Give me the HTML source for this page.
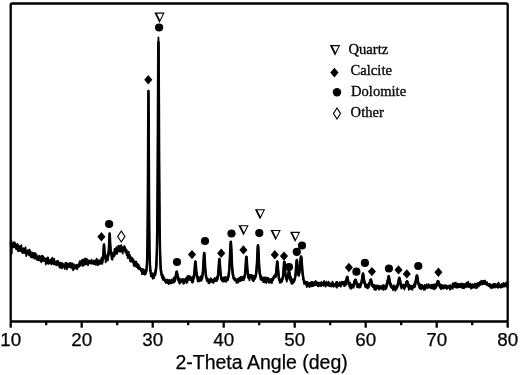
<!DOCTYPE html>
<html><head><meta charset="utf-8"><title>XRD pattern</title>
<style>
html,body{margin:0;padding:0;background:#fff;}
body{width:520px;height:375px;overflow:hidden;}
svg{display:block;}
.ax text{font-family:"Liberation Sans",Arial,Helvetica,sans-serif;font-size:18.8px;fill:#000;stroke:#000;stroke-width:0.25px;}
.lg text{font-family:"Liberation Serif","Times New Roman",Times,serif;font-size:14.6px;fill:#000;stroke:#000;stroke-width:0.3px;}
</style></head><body>
<svg width="520" height="375" viewBox="0 0 520 375">
<rect x="0" y="0" width="520" height="375" fill="#fff"/>
<polyline points="10.70,244.64 10.85,246.48 11.00,243.79 11.15,240.86 11.30,243.38 11.45,240.84 11.60,246.54 11.75,253.41 11.90,244.08 12.05,243.55 12.20,246.88 12.35,246.69 12.50,246.25 12.65,244.23 12.80,246.09 12.95,247.59 13.10,243.56 13.25,245.38 13.40,242.54 13.55,243.81 13.70,242.75 13.85,246.01 14.00,243.99 14.15,247.06 14.30,246.82 14.45,246.13 14.60,242.11 14.75,245.43 14.90,246.42 15.05,246.75 15.20,243.48 15.35,245.60 15.50,244.61 15.65,244.97 15.80,248.74 15.95,245.03 16.10,246.61 16.25,248.48 16.40,245.58 16.55,246.56 16.70,247.05 16.85,247.00 17.00,244.47 17.15,247.12 17.30,249.74 17.45,243.99 17.60,248.86 17.75,247.44 17.90,245.98 18.05,251.33 18.20,248.93 18.35,245.08 18.50,247.70 18.65,248.78 18.80,247.33 18.95,249.15 19.10,247.73 19.25,249.28 19.40,250.91 19.55,246.76 19.70,248.60 19.85,247.36 20.00,248.62 20.15,246.08 20.30,247.38 20.45,248.22 20.60,250.49 20.75,251.07 20.90,246.21 21.05,247.35 21.20,250.34 21.35,245.17 21.50,248.33 21.65,249.17 21.80,251.98 21.95,250.94 22.10,249.00 22.25,249.01 22.40,249.34 22.55,252.98 22.70,249.16 22.85,249.49 23.00,250.89 23.15,250.02 23.30,249.95 23.45,248.19 23.60,250.47 23.75,249.68 23.90,252.97 24.05,252.01 24.20,250.73 24.35,252.18 24.50,250.23 24.65,253.07 24.80,251.02 24.95,252.26 25.10,248.58 25.25,251.92 25.40,247.91 25.55,247.28 25.70,250.81 25.85,249.68 26.00,251.87 26.15,256.00 26.30,250.03 26.45,250.52 26.60,252.24 26.75,252.89 26.90,251.64 27.05,251.66 27.20,253.55 27.35,253.28 27.50,250.30 27.65,252.28 27.80,252.60 27.95,250.55 28.10,253.24 28.25,251.15 28.40,254.85 28.55,253.43 28.70,253.33 28.85,252.11 29.00,253.14 29.15,249.57 29.30,251.37 29.45,254.38 29.60,249.63 29.75,255.52 29.90,250.57 30.05,255.53 30.20,252.50 30.35,255.74 30.50,254.56 30.65,251.41 30.80,256.88 30.95,257.32 31.10,254.47 31.25,254.13 31.40,254.41 31.55,252.90 31.70,256.94 31.85,253.84 32.00,254.83 32.15,253.45 32.30,253.82 32.45,252.61 32.60,257.50 32.75,254.85 32.90,257.02 33.05,255.24 33.20,253.94 33.35,254.68 33.50,254.28 33.65,255.41 33.80,254.73 33.95,254.93 34.10,252.95 34.25,254.09 34.40,258.81 34.55,254.49 34.70,253.85 34.85,256.55 35.00,258.65 35.15,253.37 35.30,255.81 35.45,255.12 35.60,253.12 35.75,257.90 35.90,256.60 36.05,256.90 36.20,255.48 36.35,257.86 36.50,256.13 36.65,256.99 36.80,255.32 36.95,255.24 37.10,260.07 37.25,256.74 37.40,258.30 37.55,257.77 37.70,257.09 37.85,257.03 38.00,259.19 38.15,257.52 38.30,257.84 38.45,258.20 38.60,260.36 38.75,259.48 38.90,258.96 39.05,257.25 39.20,255.77 39.35,260.07 39.50,260.12 39.65,258.11 39.80,259.38 39.95,259.84 40.10,259.96 40.25,260.15 40.40,257.67 40.55,261.31 40.70,256.31 40.85,260.21 41.00,259.59 41.15,260.34 41.30,262.24 41.45,261.59 41.60,256.89 41.75,255.98 41.90,260.61 42.05,257.38 42.20,259.29 42.35,260.92 42.50,256.52 42.65,255.77 42.80,260.15 42.95,259.85 43.10,259.42 43.25,260.01 43.40,258.48 43.55,257.38 43.70,259.88 43.85,258.51 44.00,257.37 44.15,261.29 44.30,260.33 44.45,261.22 44.60,258.77 44.75,259.41 44.90,258.85 45.05,259.09 45.20,261.05 45.35,259.33 45.50,261.39 45.65,261.39 45.80,264.43 45.95,258.37 46.10,262.46 46.25,260.76 46.40,260.93 46.55,258.42 46.70,260.22 46.85,262.40 47.00,260.98 47.15,261.31 47.30,260.70 47.45,263.31 47.60,261.28 47.75,257.47 47.90,260.19 48.05,257.98 48.20,257.61 48.35,260.60 48.50,263.92 48.65,261.68 48.80,259.56 48.95,259.99 49.10,263.65 49.25,261.95 49.40,261.76 49.55,261.58 49.70,261.74 49.85,263.08 50.00,262.62 50.15,262.01 50.30,259.79 50.45,262.49 50.60,260.38 50.75,263.47 50.90,259.31 51.05,261.27 51.20,261.48 51.35,259.16 51.50,264.46 51.65,263.99 51.80,260.62 51.95,262.77 52.10,262.08 52.25,257.59 52.40,261.86 52.55,261.32 52.70,261.58 52.85,259.58 53.00,261.00 53.15,261.17 53.30,263.55 53.45,262.10 53.60,261.53 53.75,264.21 53.90,260.64 54.05,260.96 54.20,258.53 54.35,264.41 54.50,263.41 54.65,263.37 54.80,262.99 54.95,262.08 55.10,262.32 55.25,261.57 55.40,261.72 55.55,262.23 55.70,264.80 55.85,263.23 56.00,262.25 56.15,261.43 56.30,261.42 56.45,265.34 56.60,263.54 56.75,262.88 56.90,262.26 57.05,261.04 57.20,262.91 57.35,264.60 57.50,262.53 57.65,262.90 57.80,262.99 57.95,263.64 58.10,260.83 58.25,263.22 58.40,262.25 58.55,265.28 58.70,262.55 58.85,264.91 59.00,266.59 59.15,263.54 59.30,263.13 59.45,264.54 59.60,264.28 59.75,262.66 59.90,265.19 60.05,267.87 60.20,264.09 60.35,264.25 60.50,262.89 60.65,265.24 60.80,262.66 60.95,262.96 61.10,267.03 61.25,263.40 61.40,266.79 61.55,267.58 61.70,265.50 61.85,266.04 62.00,268.44 62.15,264.88 62.30,264.26 62.45,263.04 62.60,265.43 62.75,267.88 62.90,267.06 63.05,263.92 63.20,264.11 63.35,264.74 63.50,266.12 63.65,265.32 63.80,266.06 63.95,266.23 64.10,265.27 64.25,265.73 64.40,266.17 64.55,265.70 64.70,266.70 64.85,268.99 65.00,266.87 65.15,265.98 65.30,263.08 65.45,266.53 65.60,262.65 65.75,263.53 65.90,267.29 66.05,267.03 66.20,265.59 66.35,262.98 66.50,265.18 66.65,264.65 66.80,266.81 66.95,269.38 67.10,266.07 67.25,264.40 67.40,263.73 67.55,265.56 67.70,265.34 67.85,263.72 68.00,265.80 68.15,263.70 68.30,267.43 68.45,267.34 68.60,267.37 68.75,264.80 68.90,266.44 69.05,265.37 69.20,264.96 69.35,265.05 69.50,263.48 69.65,263.25 69.80,266.96 69.95,265.36 70.10,266.05 70.25,267.37 70.40,262.91 70.55,264.50 70.70,266.11 70.85,266.51 71.00,265.29 71.15,267.64 71.30,266.34 71.45,264.05 71.60,264.57 71.75,267.47 71.90,266.96 72.05,263.14 72.20,268.52 72.35,267.35 72.50,268.62 72.65,265.85 72.80,266.05 72.95,264.75 73.10,270.24 73.25,266.41 73.40,269.34 73.55,265.74 73.70,267.12 73.85,264.17 74.00,266.32 74.15,268.60 74.30,265.00 74.45,268.83 74.60,267.67 74.75,265.47 74.90,266.39 75.05,266.50 75.20,267.21 75.35,266.46 75.50,265.97 75.65,266.79 75.80,265.57 75.95,265.10 76.10,267.08 76.25,268.56 76.40,264.57 76.55,267.04 76.70,265.91 76.85,265.33 77.00,268.28 77.15,265.97 77.30,269.23 77.45,265.41 77.60,267.27 77.75,266.19 77.90,265.25 78.05,267.36 78.20,265.97 78.35,267.05 78.50,265.80 78.65,263.89 78.80,265.35 78.95,265.43 79.10,266.78 79.25,263.45 79.40,264.74 79.55,261.70 79.70,265.55 79.85,262.43 80.00,261.01 80.15,263.90 80.30,265.80 80.45,261.20 80.60,261.86 80.75,262.36 80.90,261.61 81.05,264.12 81.20,262.00 81.35,262.06 81.50,264.23 81.65,261.84 81.80,263.81 81.95,261.30 82.10,260.80 82.25,259.64 82.40,265.97 82.55,262.10 82.70,263.00 82.85,262.43 83.00,262.67 83.15,262.47 83.30,265.71 83.45,260.56 83.60,259.64 83.75,260.58 83.90,260.00 84.05,263.61 84.20,263.72 84.35,260.59 84.50,259.83 84.65,261.61 84.80,264.62 84.95,258.35 85.10,263.07 85.25,260.26 85.40,263.92 85.55,260.21 85.70,261.57 85.85,259.43 86.00,260.33 86.15,264.41 86.30,263.42 86.45,261.28 86.60,260.46 86.75,258.67 86.90,261.27 87.05,261.89 87.20,261.80 87.35,261.79 87.50,260.01 87.65,261.85 87.80,261.92 87.95,264.24 88.10,265.26 88.25,261.81 88.40,260.76 88.55,262.01 88.70,261.11 88.85,260.92 89.00,262.15 89.15,260.50 89.30,263.40 89.45,262.23 89.60,262.90 89.75,262.21 89.90,261.34 90.05,261.02 90.20,262.31 90.35,261.84 90.50,263.25 90.65,262.91 90.80,260.63 90.95,263.16 91.10,260.77 91.25,262.05 91.40,262.64 91.55,259.60 91.70,263.36 91.85,263.48 92.00,262.96 92.15,262.52 92.30,262.61 92.45,261.58 92.60,262.80 92.75,262.31 92.90,263.42 93.05,261.18 93.20,263.65 93.35,263.48 93.50,262.98 93.65,262.45 93.80,264.15 93.95,260.30 94.10,263.95 94.25,263.55 94.40,263.60 94.55,263.75 94.70,261.93 94.85,262.59 95.00,264.11 95.15,263.72 95.30,263.30 95.45,260.28 95.60,263.79 95.75,264.85 95.90,264.53 96.05,263.15 96.20,260.00 96.35,264.29 96.50,262.36 96.65,258.76 96.80,263.19 96.95,259.91 97.10,260.21 97.25,261.32 97.40,264.61 97.55,261.73 97.70,262.82 97.85,265.37 98.00,265.09 98.15,262.13 98.30,261.89 98.45,260.13 98.60,261.12 98.75,263.09 98.90,263.06 99.05,262.57 99.20,264.10 99.35,261.00 99.50,262.24 99.65,263.61 99.80,263.35 99.95,264.19 100.10,263.00 100.25,261.75 100.40,262.92 100.55,260.50 100.70,259.35 100.85,263.23 101.00,262.07 101.10,262.69 101.15,259.15 101.20,261.51 101.30,261.05 101.40,260.53 101.45,258.14 101.50,261.41 101.60,263.52 101.70,262.51 101.75,260.70 101.80,261.68 101.90,262.93 102.00,257.50 102.05,261.12 102.10,262.21 102.20,262.28 102.30,263.90 102.35,262.75 102.40,261.13 102.50,260.84 102.60,261.41 102.65,258.81 102.70,259.51 102.80,260.81 102.90,261.90 102.95,258.01 103.00,257.83 103.10,257.39 103.20,257.84 103.25,255.54 103.30,256.60 103.40,252.58 103.50,251.69 103.55,250.77 103.60,250.48 103.70,248.52 103.80,245.70 103.85,245.24 103.90,244.96 104.00,244.39 104.10,244.56 104.15,245.59 104.20,246.18 104.30,247.95 104.40,249.23 104.45,251.22 104.50,251.11 104.60,253.94 104.70,253.12 104.75,253.66 104.80,255.43 104.90,254.99 105.00,257.68 105.05,257.31 105.10,255.52 105.20,257.62 105.30,257.13 105.35,259.59 105.40,256.84 105.50,257.38 105.60,260.56 105.65,262.43 105.70,262.12 105.80,258.65 105.90,258.99 105.95,261.43 106.00,258.41 106.10,256.85 106.20,258.84 106.25,259.44 106.30,257.08 106.40,255.53 106.50,255.86 106.55,259.68 106.60,257.02 106.65,258.11 106.70,258.70 106.75,259.39 106.80,257.57 106.85,259.04 106.90,256.41 106.95,257.30 107.00,256.00 107.05,259.90 107.15,257.62 107.25,256.15 107.30,256.77 107.35,256.91 107.45,258.45 107.55,253.98 107.60,254.90 107.65,256.01 107.75,260.60 107.85,258.01 107.90,255.84 107.95,257.23 108.05,259.44 108.15,254.69 108.20,254.21 108.25,256.98 108.35,255.05 108.45,254.73 108.50,252.11 108.55,256.13 108.65,254.56 108.75,251.44 108.80,250.90 108.85,246.49 108.95,248.23 109.05,245.27 109.10,244.73 109.15,243.71 109.25,240.35 109.35,237.16 109.40,236.97 109.45,235.49 109.55,234.07 109.65,233.52 109.70,233.60 109.75,233.65 109.85,235.95 109.95,237.88 110.00,239.65 110.05,241.61 110.15,242.83 110.25,243.32 110.30,245.21 110.35,245.75 110.45,248.19 110.55,250.38 110.60,247.70 110.65,252.00 110.75,249.60 110.85,253.69 110.90,253.19 110.95,253.06 111.05,253.98 111.15,253.42 111.20,253.43 111.25,251.48 111.35,254.90 111.45,258.68 111.50,259.00 111.55,257.78 111.65,256.68 111.75,254.09 111.80,258.18 111.85,255.31 111.95,255.31 112.05,254.90 112.10,255.63 112.15,254.61 112.25,255.28 112.35,253.35 112.40,254.70 112.45,259.64 112.55,255.26 112.65,254.86 112.70,256.29 112.85,256.44 113.00,252.74 113.15,254.29 113.30,256.28 113.45,254.82 113.60,254.33 113.75,256.93 113.90,252.35 114.05,253.64 114.20,252.24 114.35,256.01 114.50,248.97 114.65,251.30 114.80,251.36 114.95,253.52 115.10,253.29 115.25,254.80 115.40,248.78 115.55,253.36 115.70,251.19 115.85,250.36 116.00,252.68 116.15,249.66 116.30,247.25 116.45,250.56 116.60,248.19 116.75,249.78 116.90,251.70 117.05,251.46 117.20,253.88 117.35,250.18 117.50,247.38 117.65,248.80 117.80,248.34 117.95,247.60 118.10,250.80 118.25,248.53 118.40,245.77 118.55,251.02 118.70,249.30 118.85,250.14 119.00,249.55 119.15,250.51 119.30,249.24 119.45,251.55 119.60,249.85 119.75,249.72 119.90,249.68 120.05,245.89 120.20,248.41 120.35,248.17 120.50,249.05 120.65,245.88 120.80,251.82 120.95,248.73 121.10,246.07 121.25,245.04 121.40,247.88 121.55,248.32 121.70,247.12 121.85,248.80 122.00,247.40 122.15,249.86 122.30,247.38 122.45,248.83 122.60,250.95 122.75,253.48 122.90,247.15 123.05,248.32 123.20,247.66 123.35,251.00 123.50,247.23 123.65,248.64 123.80,249.65 123.95,247.84 124.10,248.00 124.25,249.10 124.40,245.98 124.55,247.42 124.70,249.61 124.85,250.86 125.00,250.31 125.15,247.25 125.30,249.98 125.45,252.61 125.60,252.23 125.75,251.07 125.90,249.55 126.05,252.68 126.20,250.35 126.35,249.40 126.50,250.36 126.65,255.09 126.80,252.85 126.95,254.94 127.10,251.88 127.25,254.91 127.40,252.06 127.55,253.14 127.70,257.99 127.85,255.35 128.00,253.05 128.15,254.05 128.30,255.03 128.45,256.93 128.60,253.86 128.75,251.71 128.90,254.81 129.05,255.64 129.20,256.07 129.35,258.62 129.50,256.97 129.65,258.16 129.80,254.81 129.95,258.74 130.10,261.27 130.25,259.05 130.40,258.33 130.55,258.39 130.70,261.63 130.85,256.92 131.00,258.66 131.15,259.82 131.30,260.45 131.45,258.45 131.60,259.92 131.75,259.01 131.90,259.87 132.05,259.57 132.20,257.93 132.35,260.08 132.50,261.83 132.65,258.74 132.80,260.20 132.95,261.98 133.10,259.13 133.25,261.51 133.40,259.55 133.55,263.57 133.70,265.62 133.85,265.51 134.00,261.87 134.15,263.73 134.30,262.90 134.45,263.09 134.60,265.77 134.75,261.13 134.90,265.38 135.05,263.72 135.20,266.33 135.35,264.42 135.50,263.13 135.65,264.87 135.80,265.78 135.95,264.75 136.10,265.64 136.25,264.10 136.40,261.56 136.55,266.72 136.70,266.51 136.85,265.72 137.00,265.70 137.15,267.41 137.30,265.08 137.45,264.78 137.60,265.74 137.75,268.11 137.90,264.02 138.05,268.33 138.20,265.46 138.35,264.83 138.50,268.77 138.65,266.69 138.80,264.86 138.95,266.50 139.10,268.73 139.25,269.32 139.40,266.92 139.55,268.43 139.70,269.10 139.85,267.13 140.00,268.89 140.15,268.47 140.30,267.86 140.45,268.12 140.60,269.17 140.75,269.30 140.90,268.56 141.05,268.96 141.20,271.50 141.35,270.30 141.50,271.50 141.65,272.16 141.80,271.40 141.95,274.01 142.10,269.61 142.25,272.25 142.40,270.73 142.55,274.14 142.70,274.07 142.85,268.81 143.00,270.44 143.15,273.01 143.30,273.35 143.45,273.42 143.60,272.38 143.75,273.29 143.90,273.70 144.05,272.74 144.20,274.44 144.35,269.85 144.50,274.02 144.65,271.67 144.80,274.58 144.95,272.88 145.10,271.92 145.25,273.69 145.40,271.76 145.45,271.70 145.55,270.65 145.65,272.75 145.70,273.41 145.75,274.08 145.85,272.18 145.95,273.68 146.00,272.00 146.05,271.66 146.15,272.29 146.25,272.55 146.30,270.15 146.35,269.96 146.45,269.38 146.55,268.91 146.60,266.87 146.65,269.37 146.75,265.89 146.85,265.84 146.90,262.82 146.95,263.85 147.05,261.72 147.15,257.50 147.20,260.39 147.25,255.48 147.35,253.70 147.45,246.49 147.50,240.49 147.55,237.17 147.65,229.11 147.75,216.75 147.80,209.64 147.85,201.34 147.95,181.48 148.05,160.81 148.10,147.76 148.15,137.12 148.25,113.86 148.35,97.10 148.40,92.53 148.45,90.98 148.55,97.04 148.65,113.64 148.70,124.81 148.75,136.11 148.85,160.58 148.95,184.66 149.00,192.19 149.05,202.72 149.15,215.61 149.25,229.54 149.30,233.65 149.35,238.39 149.45,246.66 149.55,254.57 149.60,254.09 149.65,256.07 149.75,257.61 149.85,263.20 149.90,262.99 149.95,265.90 150.05,266.28 150.15,270.63 150.20,265.43 150.25,268.70 150.35,271.55 150.45,270.56 150.50,270.31 150.55,271.46 150.65,270.47 150.75,273.19 150.80,276.43 150.85,275.13 150.95,272.32 151.05,273.00 151.10,273.81 151.15,275.93 151.25,273.64 151.35,274.05 151.40,276.32 151.45,276.38 151.55,274.85 151.70,274.06 151.85,273.66 152.00,274.97 152.15,273.08 152.30,277.16 152.45,275.38 152.60,276.93 152.75,278.83 152.90,277.93 153.05,274.84 153.20,277.54 153.35,277.91 153.50,275.34 153.65,275.01 153.80,276.08 153.95,273.99 154.10,278.02 154.25,272.92 154.40,274.23 154.55,275.17 154.70,274.98 154.85,275.23 155.00,275.02 155.15,273.90 155.30,275.31 155.45,269.94 155.55,272.55 155.60,271.23 155.65,272.20 155.75,271.68 155.85,269.21 155.90,269.20 155.95,270.98 156.05,269.30 156.15,266.49 156.20,270.27 156.25,269.88 156.35,262.20 156.45,263.36 156.50,265.68 156.55,262.07 156.65,258.51 156.75,254.67 156.80,252.27 156.85,251.02 156.95,246.04 157.05,243.47 157.10,238.21 157.15,234.87 157.25,225.88 157.35,219.15 157.40,212.49 157.45,208.08 157.55,196.96 157.65,180.51 157.70,172.00 157.75,162.49 157.85,141.72 157.95,119.14 158.00,107.39 158.05,96.47 158.15,73.10 158.25,55.21 158.30,47.47 158.35,41.88 158.45,37.49 158.55,41.94 158.60,47.58 158.65,54.61 158.75,74.33 158.85,95.59 158.90,106.12 158.95,118.79 159.05,139.81 159.15,162.19 159.20,172.84 159.25,181.02 159.35,193.51 159.45,207.21 159.50,217.25 159.55,219.88 159.65,228.31 159.75,237.91 159.80,243.46 159.85,244.62 159.95,247.50 160.05,252.27 160.10,254.66 160.15,254.03 160.25,256.33 160.35,260.96 160.40,260.37 160.45,262.97 160.55,265.12 160.65,270.13 160.70,265.93 160.75,267.76 160.85,268.90 160.95,270.85 161.00,272.22 161.05,270.35 161.15,270.67 161.25,270.20 161.30,271.53 161.35,273.90 161.45,273.74 161.60,272.99 161.75,274.48 161.90,275.54 162.05,276.61 162.20,275.55 162.35,276.36 162.50,274.65 162.65,275.81 162.80,279.68 162.95,274.98 163.10,277.63 163.25,278.58 163.40,278.02 163.55,277.66 163.70,278.84 163.85,279.10 164.00,279.20 164.15,277.05 164.30,279.48 164.45,278.74 164.60,279.31 164.75,280.48 164.90,281.18 165.05,281.66 165.20,280.00 165.35,281.98 165.50,282.43 165.65,282.50 165.80,282.94 165.95,281.05 166.10,281.11 166.25,282.49 166.40,279.71 166.55,281.83 166.70,280.93 166.85,281.19 167.00,279.45 167.15,280.59 167.30,281.76 167.45,282.97 167.60,283.13 167.75,281.76 167.90,281.64 168.05,280.83 168.20,282.46 168.35,281.64 168.50,282.77 168.65,284.27 168.80,281.91 168.95,279.97 169.10,280.76 169.25,279.95 169.40,280.26 169.55,283.49 169.70,282.07 169.85,279.78 170.00,282.59 170.15,283.36 170.30,281.24 170.45,280.82 170.60,281.25 170.75,282.04 170.90,282.49 171.05,283.18 171.20,283.20 171.35,283.14 171.50,283.35 171.65,282.41 171.80,279.52 171.95,281.30 172.10,281.83 172.25,280.87 172.40,282.49 172.55,280.77 172.70,279.96 172.85,282.95 173.00,281.85 173.15,281.17 173.30,281.98 173.45,282.03 173.60,280.97 173.70,277.56 173.75,279.47 173.80,279.69 173.90,278.90 174.00,280.32 174.05,281.55 174.10,279.31 174.20,278.35 174.30,282.35 174.35,279.07 174.40,278.00 174.50,279.79 174.60,279.90 174.65,278.37 174.70,280.27 174.80,278.44 174.90,277.69 174.95,279.06 175.00,279.75 175.10,277.70 175.20,278.68 175.25,278.02 175.30,280.89 175.40,276.77 175.50,279.11 175.55,277.07 175.60,276.79 175.70,277.26 175.80,276.82 175.85,276.88 175.90,275.69 176.00,274.29 176.10,273.78 176.15,274.20 176.20,273.92 176.30,273.68 176.40,272.65 176.45,272.60 176.50,272.46 176.60,271.80 176.70,271.60 176.75,271.60 176.80,271.60 176.90,272.49 177.00,272.24 177.05,273.34 177.10,273.40 177.20,274.78 177.30,275.16 177.35,274.72 177.40,275.00 177.50,275.95 177.60,276.75 177.65,276.33 177.70,277.18 177.80,279.79 177.90,276.18 177.95,278.94 178.00,277.60 178.10,279.39 178.20,280.56 178.25,279.52 178.30,280.71 178.40,277.88 178.50,281.59 178.55,279.44 178.60,281.09 178.70,280.67 178.80,277.70 178.85,279.61 178.90,280.90 179.00,282.72 179.10,281.14 179.15,281.10 179.20,278.93 179.30,282.67 179.40,283.19 179.45,280.87 179.50,280.54 179.60,278.74 179.70,282.02 179.75,283.72 179.90,281.83 180.05,282.58 180.20,281.67 180.35,279.71 180.50,282.75 180.65,279.42 180.80,280.78 180.95,281.43 181.10,282.23 181.25,281.64 181.40,281.62 181.55,280.15 181.70,279.49 181.85,281.26 182.00,280.28 182.15,279.51 182.30,279.58 182.45,280.60 182.60,278.83 182.75,279.49 182.90,279.11 183.05,281.47 183.20,281.76 183.35,283.83 183.50,279.26 183.65,280.30 183.80,282.36 183.95,280.87 184.10,280.70 184.25,283.33 184.40,280.64 184.55,279.56 184.70,279.32 184.85,281.44 185.00,281.37 185.15,279.16 185.30,279.63 185.45,281.57 185.60,281.58 185.75,279.95 185.90,281.54 186.00,281.43 186.05,278.34 186.10,280.22 186.20,281.11 186.30,279.77 186.35,277.69 186.40,280.07 186.50,281.34 186.60,282.34 186.65,277.39 186.70,283.05 186.80,278.63 186.90,281.24 186.95,281.55 187.00,281.16 187.10,279.96 187.20,278.14 187.25,280.40 187.30,278.59 187.40,276.52 187.50,282.09 187.55,280.07 187.60,281.43 187.70,277.70 187.80,280.60 187.85,280.59 187.90,280.36 188.00,278.27 188.10,276.89 188.15,277.79 188.20,275.92 188.30,276.28 188.40,277.37 188.45,276.60 188.50,276.98 188.60,276.79 188.70,277.28 188.75,276.92 188.80,276.49 188.90,276.55 189.00,276.40 189.05,276.37 189.10,276.49 189.20,276.16 189.30,276.44 189.35,276.09 189.40,276.72 189.50,277.72 189.60,276.53 189.65,277.27 189.70,276.52 189.80,276.40 189.90,276.38 189.95,279.18 190.00,280.16 190.10,278.52 190.20,277.18 190.25,279.14 190.30,277.91 190.40,279.57 190.50,279.09 190.55,279.17 190.60,279.70 190.70,278.30 190.80,278.67 190.85,277.04 190.90,278.78 191.00,277.62 191.10,279.38 191.15,278.38 191.20,279.82 191.30,280.35 191.40,277.98 191.45,278.81 191.50,278.68 191.60,280.91 191.70,282.19 191.75,281.10 191.80,279.56 191.90,281.93 192.00,278.05 192.05,281.97 192.20,279.13 192.35,277.06 192.40,282.77 192.50,281.91 192.60,278.44 192.65,279.97 192.70,279.44 192.80,279.75 192.90,277.57 192.95,278.55 193.00,279.98 193.10,279.50 193.20,280.58 193.25,279.02 193.30,281.67 193.40,277.62 193.50,278.60 193.55,275.61 193.60,276.29 193.70,279.26 193.80,275.84 193.85,277.53 193.90,276.48 194.00,274.55 194.10,274.80 194.15,274.19 194.20,273.81 194.30,274.56 194.40,273.33 194.45,271.30 194.50,270.37 194.60,270.41 194.70,268.67 194.75,268.95 194.80,269.13 194.90,266.51 195.00,264.55 195.05,263.86 195.10,263.00 195.20,262.14 195.30,261.62 195.35,261.56 195.40,261.51 195.50,261.86 195.60,262.27 195.65,262.77 195.70,262.83 195.80,265.49 195.90,266.28 195.95,267.98 196.00,267.99 196.10,270.13 196.20,269.86 196.25,271.52 196.30,273.83 196.40,271.00 196.50,275.04 196.55,276.25 196.60,274.94 196.70,276.14 196.80,277.46 196.85,275.07 196.90,276.77 197.00,275.50 197.10,276.16 197.15,276.39 197.20,277.15 197.30,277.82 197.40,278.46 197.45,276.05 197.50,280.64 197.60,279.71 197.70,279.28 197.75,277.88 197.80,278.28 197.90,279.24 198.00,279.15 198.05,276.39 198.10,279.65 198.20,281.59 198.30,276.34 198.35,280.15 198.40,279.34 198.50,278.76 198.65,280.81 198.80,277.46 198.95,279.31 199.10,281.08 199.25,278.89 199.40,278.62 199.55,279.34 199.70,278.60 199.85,281.25 200.00,277.96 200.15,280.33 200.30,277.47 200.45,280.01 200.60,278.93 200.75,276.15 200.90,278.92 201.05,277.40 201.20,278.10 201.30,280.66 201.35,277.08 201.40,277.13 201.50,280.35 201.60,278.43 201.65,280.28 201.70,278.59 201.80,276.78 201.90,277.64 201.95,279.27 202.00,278.77 202.10,277.20 202.20,276.90 202.25,276.50 202.30,275.66 202.40,278.67 202.50,275.41 202.55,273.49 202.60,274.10 202.70,275.09 202.80,274.11 202.85,272.47 202.90,271.15 203.00,271.07 203.10,267.20 203.15,267.08 203.20,269.25 203.30,265.87 203.40,265.09 203.45,265.04 203.50,263.40 203.60,260.75 203.70,260.43 203.75,258.28 203.80,256.66 203.90,255.61 204.00,254.09 204.05,253.26 204.10,253.12 204.20,252.78 204.30,252.79 204.35,253.44 204.40,253.87 204.50,255.04 204.60,255.82 204.65,257.53 204.70,258.70 204.80,260.79 204.90,261.49 204.95,264.35 205.00,263.19 205.10,266.13 205.20,269.89 205.25,267.90 205.30,268.87 205.40,272.67 205.50,271.59 205.55,272.26 205.60,273.53 205.70,275.64 205.80,271.83 205.85,274.08 205.90,274.16 206.00,274.68 206.10,275.54 206.15,275.79 206.20,277.55 206.30,276.35 206.40,278.05 206.45,278.57 206.50,277.20 206.60,278.61 206.70,280.86 206.75,279.20 206.80,278.01 206.90,278.96 207.00,277.99 207.05,279.63 207.10,280.48 207.20,278.37 207.35,279.36 207.50,281.27 207.65,279.26 207.80,280.28 207.95,278.76 208.10,279.12 208.25,279.60 208.40,283.18 208.55,279.88 208.70,279.78 208.85,279.79 209.00,280.35 209.15,281.46 209.30,280.90 209.45,283.37 209.60,281.01 209.75,282.65 209.90,281.16 210.05,281.62 210.20,278.99 210.35,280.73 210.50,280.83 210.65,280.64 210.80,278.18 210.95,282.14 211.10,280.51 211.25,280.47 211.40,280.72 211.55,280.77 211.70,281.60 211.85,279.43 212.00,279.87 212.15,281.46 212.30,281.27 212.45,280.59 212.60,280.33 212.75,279.98 212.90,280.98 213.05,282.57 213.20,279.65 213.35,282.99 213.50,282.09 213.65,280.38 213.80,281.96 213.95,279.02 214.10,278.65 214.25,279.20 214.40,280.31 214.55,280.39 214.70,280.12 214.85,280.88 215.00,277.94 215.15,281.32 215.30,278.78 215.45,279.72 215.60,279.99 215.75,278.96 215.90,278.61 216.05,279.00 216.20,280.19 216.35,280.86 216.40,280.79 216.50,278.67 216.60,278.83 216.65,278.61 216.70,280.34 216.80,276.98 216.90,281.09 216.95,278.78 217.00,278.31 217.10,279.58 217.20,280.27 217.25,279.27 217.30,280.07 217.40,278.60 217.50,279.69 217.55,279.54 217.60,277.61 217.70,279.17 217.80,277.01 217.85,276.63 217.90,274.98 218.00,275.14 218.10,275.83 218.15,272.47 218.20,274.77 218.30,273.26 218.40,271.94 218.45,268.32 218.50,270.14 218.60,269.47 218.70,266.50 218.75,266.48 218.80,263.74 218.90,264.39 219.00,261.97 219.05,262.07 219.10,260.14 219.20,260.08 219.30,259.15 219.35,259.07 219.40,258.96 219.50,259.08 219.60,260.50 219.65,260.00 219.70,260.54 219.80,262.00 219.90,262.92 219.95,265.31 220.00,266.59 220.10,266.03 220.20,266.34 220.25,270.10 220.30,270.73 220.40,271.70 220.50,273.30 220.55,271.06 220.60,272.47 220.70,271.71 220.80,272.51 220.85,276.14 220.90,274.28 221.00,278.71 221.10,276.46 221.15,275.81 221.20,277.93 221.30,279.68 221.40,278.35 221.45,276.33 221.50,278.58 221.60,280.19 221.70,278.03 221.75,277.80 221.80,280.25 221.90,279.32 222.00,277.88 222.05,278.91 222.10,278.50 222.20,279.99 222.30,279.86 222.35,281.26 222.40,280.73 222.50,277.85 222.65,280.51 222.80,281.22 222.95,280.71 223.10,281.50 223.25,279.48 223.40,278.98 223.55,281.44 223.70,278.85 223.85,277.42 224.00,281.56 224.15,279.25 224.30,279.75 224.45,278.29 224.60,278.34 224.75,278.51 224.90,279.49 225.05,280.39 225.20,276.99 225.35,280.77 225.50,278.19 225.65,278.28 225.80,280.48 225.95,279.43 226.10,277.45 226.25,281.77 226.40,278.16 226.55,279.51 226.70,279.34 226.85,280.80 227.00,278.24 227.15,280.00 227.30,277.55 227.45,279.78 227.60,277.09 227.75,277.34 227.80,280.20 227.90,277.94 228.00,277.44 228.05,280.05 228.10,277.54 228.20,275.71 228.30,277.39 228.35,274.69 228.40,277.56 228.50,277.24 228.60,274.32 228.65,273.97 228.70,274.79 228.80,273.90 228.90,271.73 228.95,273.54 229.00,269.31 229.10,270.67 229.20,269.60 229.25,269.20 229.30,269.46 229.40,265.63 229.50,267.00 229.55,264.89 229.60,263.20 229.70,260.21 229.80,258.55 229.85,259.73 229.90,256.74 230.00,255.79 230.10,254.48 230.15,253.15 230.20,252.37 230.30,248.20 230.40,245.55 230.45,245.89 230.50,244.56 230.60,243.36 230.70,242.10 230.75,241.97 230.80,241.80 230.90,242.19 231.00,243.10 231.05,243.73 231.10,244.44 231.20,246.29 231.30,249.08 231.35,248.93 231.40,252.31 231.50,252.85 231.60,256.61 231.65,256.40 231.70,257.33 231.80,262.90 231.90,261.40 231.95,260.76 232.00,262.57 232.10,264.99 232.20,270.53 232.25,268.14 232.30,269.96 232.40,268.22 232.50,271.39 232.55,272.38 232.60,274.51 232.70,271.75 232.80,274.38 232.85,274.31 232.90,272.80 233.00,274.80 233.10,275.01 233.15,272.65 233.20,276.65 233.30,276.98 233.40,276.06 233.45,275.06 233.50,278.90 233.60,277.61 233.70,278.85 233.75,279.49 233.80,277.10 233.90,279.04 234.05,277.96 234.20,278.43 234.35,278.61 234.50,278.91 234.65,280.52 234.80,279.37 234.95,279.13 235.10,279.08 235.25,279.98 235.40,278.46 235.55,279.04 235.70,279.70 235.85,279.09 236.00,279.71 236.15,279.12 236.30,282.55 236.45,281.70 236.60,280.58 236.75,279.93 236.90,282.86 237.05,280.43 237.20,279.90 237.35,280.39 237.50,280.38 237.65,281.80 237.80,279.92 237.95,282.64 238.10,278.74 238.25,280.75 238.40,278.51 238.55,282.13 238.70,279.30 238.85,279.61 239.00,280.84 239.15,281.22 239.30,278.10 239.45,279.05 239.60,277.63 239.75,279.58 239.90,279.22 240.05,278.86 240.20,278.39 240.35,278.75 240.50,278.25 240.65,279.88 240.80,281.14 240.95,276.64 241.10,278.97 241.25,278.56 241.40,279.73 241.55,277.83 241.70,278.86 241.85,277.68 242.00,279.92 242.15,279.13 242.30,278.76 242.45,279.43 242.60,278.60 242.75,276.86 242.90,279.61 243.05,279.15 243.20,278.50 243.35,279.89 243.40,280.18 243.50,277.10 243.60,277.43 243.65,280.42 243.70,280.22 243.80,277.30 243.90,276.58 243.95,277.22 244.00,277.33 244.10,275.72 244.20,277.59 244.25,275.76 244.30,275.72 244.40,278.18 244.50,275.73 244.55,276.33 244.60,277.05 244.70,276.83 244.80,274.72 244.85,274.94 244.90,273.41 245.00,276.29 245.10,273.92 245.15,270.94 245.20,272.06 245.30,271.95 245.40,270.37 245.45,271.35 245.50,270.03 245.60,266.33 245.70,265.21 245.75,263.29 245.80,263.83 245.90,262.02 246.00,261.59 246.05,259.57 246.10,257.87 246.20,257.45 246.30,256.92 246.35,256.60 246.40,256.61 246.50,256.83 246.60,257.75 246.65,258.11 246.70,258.40 246.80,260.73 246.90,261.51 246.95,262.36 247.00,262.44 247.10,264.55 247.20,267.64 247.25,265.86 247.30,268.33 247.40,270.69 247.50,270.44 247.55,271.83 247.60,270.33 247.70,274.77 247.80,275.22 247.85,274.32 247.90,271.84 248.00,273.42 248.10,276.68 248.15,277.87 248.20,276.15 248.30,277.77 248.40,275.60 248.45,276.29 248.50,276.67 248.60,277.44 248.70,275.08 248.75,278.37 248.80,278.95 248.90,275.86 249.00,275.69 249.05,277.95 249.10,276.70 249.20,274.73 249.30,278.66 249.35,277.83 249.40,277.02 249.50,280.36 249.60,277.73 249.65,276.55 249.70,277.63 249.80,276.03 249.90,276.31 249.95,277.59 250.00,276.44 250.10,276.39 250.20,278.08 250.25,277.20 250.30,276.99 250.40,276.47 250.50,276.14 250.55,276.50 250.60,275.64 250.70,276.09 250.80,275.09 250.85,275.21 250.90,275.05 251.00,275.16 251.10,275.29 251.15,275.53 251.20,275.19 251.30,275.51 251.40,275.55 251.45,275.44 251.50,275.26 251.60,276.21 251.70,275.08 251.75,276.63 251.80,276.68 251.90,276.25 252.00,276.03 252.05,275.65 252.10,279.55 252.20,275.76 252.30,279.70 252.35,278.52 252.40,277.33 252.50,276.43 252.60,279.41 252.65,280.34 252.70,276.91 252.80,277.83 252.90,279.65 252.95,278.74 253.00,280.92 253.10,277.63 253.20,279.11 253.25,276.79 253.30,281.14 253.40,277.49 253.50,275.58 253.55,278.27 253.60,278.25 253.70,280.91 253.80,277.97 253.85,278.37 253.90,279.14 254.00,280.40 254.15,278.19 254.30,279.53 254.45,278.74 254.60,277.53 254.75,277.84 254.90,277.56 255.00,276.16 255.05,278.83 255.10,275.35 255.20,278.45 255.30,277.93 255.35,276.43 255.40,275.40 255.50,275.79 255.60,276.37 255.65,276.53 255.70,275.72 255.80,276.24 255.90,273.62 255.95,274.44 256.00,271.64 256.10,274.26 256.20,272.68 256.25,271.46 256.30,273.34 256.40,271.75 256.50,266.33 256.55,269.17 256.60,266.24 256.70,268.88 256.80,269.28 256.85,264.08 256.90,264.21 257.00,261.94 257.10,260.80 257.15,260.14 257.20,259.83 257.30,254.95 257.40,255.31 257.45,251.83 257.50,251.82 257.60,250.30 257.70,248.09 257.75,246.60 257.80,246.12 257.90,245.39 258.00,245.16 258.05,245.34 258.10,245.27 258.20,246.57 258.30,248.16 258.35,249.08 258.40,250.05 258.50,253.15 258.60,254.68 258.65,256.29 258.70,257.22 258.80,261.13 258.90,258.64 258.95,264.04 259.00,262.91 259.10,264.78 259.20,265.38 259.25,264.74 259.30,267.88 259.40,268.77 259.50,271.77 259.55,269.35 259.60,274.18 259.70,273.36 259.80,273.41 259.85,273.10 259.90,273.32 260.00,273.46 260.10,274.81 260.15,275.78 260.20,275.73 260.30,274.47 260.40,276.36 260.45,275.66 260.50,277.16 260.60,279.63 260.70,278.24 260.75,277.09 260.80,275.45 260.90,275.89 261.00,275.68 261.05,278.85 261.20,277.11 261.35,278.35 261.50,277.60 261.65,278.64 261.80,280.44 261.95,277.81 262.10,278.33 262.25,277.79 262.40,280.04 262.55,277.63 262.70,277.55 262.85,277.27 263.00,277.30 263.15,279.80 263.30,282.11 263.45,278.01 263.60,280.60 263.75,279.75 263.90,278.05 264.05,279.19 264.20,279.31 264.35,278.77 264.50,282.24 264.65,277.31 264.80,280.33 264.95,280.32 265.10,279.18 265.25,280.17 265.40,281.15 265.55,280.24 265.70,280.62 265.85,281.00 266.00,277.47 266.15,282.05 266.30,282.99 266.45,281.41 266.60,281.46 266.75,278.30 266.90,279.97 267.05,279.07 267.20,279.35 267.35,281.36 267.50,279.05 267.65,279.91 267.80,277.59 267.95,279.86 268.10,280.17 268.25,279.13 268.40,279.11 268.55,282.50 268.70,278.48 268.85,278.69 269.00,279.02 269.15,281.64 269.30,282.83 269.45,280.55 269.60,279.20 269.75,279.60 269.90,281.56 270.05,279.03 270.20,282.16 270.35,282.17 270.50,280.48 270.65,281.28 270.80,281.46 270.95,282.55 271.10,279.21 271.25,282.14 271.30,280.14 271.40,279.65 271.50,280.79 271.55,280.39 271.60,279.39 271.70,278.58 271.80,279.41 271.85,282.50 271.90,283.14 272.00,281.38 272.10,282.01 272.15,279.74 272.20,280.25 272.30,280.62 272.40,278.73 272.45,278.76 272.50,280.08 272.60,279.40 272.70,278.27 272.75,280.04 272.80,279.08 272.90,280.55 273.00,279.01 273.05,278.48 273.10,278.90 273.20,278.31 273.30,277.57 273.35,277.75 273.40,278.76 273.50,278.35 273.60,278.52 273.65,276.22 273.70,277.03 273.80,276.82 273.90,276.90 273.95,276.55 274.00,276.46 274.10,276.65 274.20,276.39 274.25,276.28 274.30,276.33 274.40,276.34 274.50,276.06 274.55,276.42 274.60,275.96 274.70,276.74 274.80,276.19 274.85,275.86 274.90,276.15 275.00,275.86 275.10,276.65 275.15,276.67 275.20,276.55 275.30,275.86 275.40,273.71 275.45,276.44 275.50,273.73 275.60,276.36 275.70,277.26 275.75,275.94 275.80,274.85 275.90,274.64 276.00,274.10 276.05,273.18 276.10,272.76 276.20,271.51 276.30,273.22 276.35,271.20 276.40,271.74 276.50,269.18 276.60,268.19 276.65,267.30 276.70,267.14 276.80,265.98 276.90,264.27 276.95,263.22 277.00,262.68 277.10,262.63 277.20,261.56 277.25,261.45 277.30,261.44 277.40,261.84 277.50,262.45 277.55,262.58 277.60,264.17 277.70,264.62 277.80,266.11 277.85,266.30 277.90,266.00 278.00,267.33 278.10,270.34 278.15,271.00 278.20,270.94 278.30,270.99 278.40,271.61 278.45,273.54 278.50,272.44 278.60,276.56 278.70,277.66 278.75,279.38 278.80,277.97 278.90,276.67 279.00,276.85 279.05,275.38 279.10,277.71 279.20,278.67 279.30,280.54 279.35,280.25 279.40,280.39 279.50,280.19 279.60,281.02 279.65,282.16 279.70,279.01 279.80,279.99 279.90,278.95 279.95,282.93 280.00,282.58 280.10,281.99 280.20,279.56 280.25,281.38 280.30,280.89 280.40,281.36 280.55,281.10 280.70,282.07 280.85,280.91 281.00,282.53 281.15,281.67 281.30,280.87 281.40,281.02 281.45,280.55 281.50,282.12 281.60,280.60 281.70,281.21 281.75,280.24 281.80,278.75 281.90,281.69 282.00,278.94 282.05,281.09 282.10,280.64 282.20,277.69 282.30,278.32 282.35,278.72 282.40,278.15 282.50,277.29 282.60,279.34 282.65,277.83 282.70,278.38 282.80,276.72 282.90,277.00 282.95,275.23 283.00,275.79 283.10,275.74 283.20,274.01 283.25,272.83 283.30,271.52 283.40,271.79 283.50,270.62 283.55,269.32 283.60,268.15 283.70,267.83 283.80,267.46 283.85,265.07 283.90,264.78 284.00,263.56 284.10,261.83 284.15,262.15 284.20,261.77 284.30,261.66 284.40,261.80 284.45,261.91 284.50,262.34 284.60,263.38 284.70,264.14 284.75,265.07 284.80,264.84 284.90,266.99 285.00,269.30 285.05,271.19 285.10,270.68 285.20,271.56 285.30,273.88 285.35,274.28 285.40,275.69 285.50,275.98 285.60,275.17 285.65,276.06 285.70,276.31 285.80,277.11 285.90,277.53 285.95,276.49 286.00,275.00 286.10,277.26 286.20,275.82 286.25,278.68 286.30,278.72 286.40,276.74 286.50,279.97 286.55,280.25 286.60,279.29 286.70,281.39 286.80,281.67 286.85,277.65 286.90,280.54 287.00,279.70 287.10,279.56 287.15,280.15 287.20,277.91 287.30,277.89 287.40,277.35 287.45,277.30 287.50,278.01 287.60,275.92 287.70,276.07 287.75,277.97 287.80,276.91 287.90,277.01 288.00,273.95 288.05,274.94 288.10,274.93 288.20,274.91 288.30,273.75 288.35,274.61 288.40,273.53 288.50,272.92 288.60,272.29 288.65,272.31 288.70,271.58 288.80,271.62 288.90,271.13 288.95,271.02 289.00,271.00 289.10,271.17 289.20,271.64 289.25,271.89 289.30,271.98 289.40,272.84 289.50,273.15 289.55,274.24 289.60,273.76 289.70,272.81 289.80,276.41 289.85,275.63 289.90,274.66 290.00,276.23 290.10,275.95 290.15,279.87 290.20,278.13 290.30,275.91 290.40,279.07 290.45,278.02 290.50,281.21 290.60,277.68 290.70,276.47 290.75,279.55 290.80,279.14 290.90,279.28 291.00,277.24 291.05,280.68 291.10,282.40 291.20,277.90 291.30,282.05 291.35,279.86 291.40,283.53 291.50,281.35 291.60,280.64 291.65,282.38 291.70,281.68 291.80,280.30 291.90,282.06 291.95,280.51 292.00,278.88 292.10,283.92 292.25,280.90 292.40,280.62 292.55,281.89 292.70,279.44 292.85,279.72 293.00,280.82 293.15,280.77 293.30,281.50 293.45,282.80 293.60,280.63 293.75,281.77 293.80,281.88 293.90,279.58 294.00,281.17 294.05,279.59 294.10,282.13 294.20,281.18 294.30,280.42 294.35,278.55 294.40,280.33 294.50,278.94 294.60,280.57 294.65,279.33 294.70,278.25 294.80,280.13 294.90,279.44 294.95,277.47 295.00,279.48 295.10,277.03 295.20,276.38 295.25,276.58 295.30,275.02 295.40,274.62 295.50,274.10 295.55,275.96 295.60,275.40 295.70,271.85 295.80,273.01 295.85,270.32 295.90,270.15 296.00,269.28 296.10,267.22 296.15,268.17 296.20,265.71 296.30,263.27 296.40,263.56 296.45,262.02 296.50,261.56 296.60,260.16 296.70,260.39 296.75,260.15 296.80,260.03 296.90,260.28 297.00,261.10 297.05,260.95 297.10,261.82 297.20,262.02 297.30,263.43 297.35,265.16 297.40,265.35 297.50,265.11 297.60,268.08 297.65,268.15 297.70,268.02 297.80,270.68 297.90,270.60 297.95,269.40 298.00,270.44 298.10,275.40 298.20,271.27 298.25,274.02 298.30,274.79 298.40,275.19 298.50,272.84 298.55,274.18 298.60,274.88 298.70,275.84 298.80,273.77 298.85,272.97 298.90,275.90 299.00,275.80 299.10,274.44 299.15,272.84 299.20,274.04 299.30,273.10 299.40,273.55 299.45,270.13 299.50,271.76 299.60,270.54 299.70,268.17 299.75,269.71 299.80,268.91 299.90,267.12 300.00,267.20 300.05,263.97 300.10,265.30 300.20,264.66 300.30,263.17 300.35,263.37 300.40,260.33 300.50,259.00 300.60,259.41 300.65,259.02 300.70,259.54 300.80,257.72 300.90,256.59 300.95,256.85 301.00,256.40 301.10,256.48 301.20,256.98 301.25,256.89 301.30,257.28 301.40,257.99 301.50,259.74 301.55,259.35 301.60,260.63 301.70,260.04 301.80,260.86 301.85,264.50 301.90,265.35 302.00,265.72 302.10,266.79 302.15,267.43 302.20,266.89 302.30,271.60 302.40,271.48 302.45,271.86 302.50,272.26 302.60,274.32 302.70,274.53 302.75,275.35 302.80,273.16 302.90,276.33 303.00,279.33 303.05,276.10 303.10,276.96 303.20,278.93 303.30,279.60 303.35,279.44 303.40,276.78 303.50,280.01 303.60,278.25 303.65,278.92 303.70,280.89 303.80,280.14 303.90,281.90 303.95,283.85 304.00,282.14 304.10,282.33 304.25,280.59 304.40,281.23 304.55,280.96 304.70,281.90 304.85,281.39 305.00,282.15 305.15,282.91 305.30,282.04 305.45,281.64 305.60,281.85 305.75,284.32 305.90,283.89 306.05,285.23 306.20,285.32 306.35,283.59 306.50,284.96 306.65,282.27 306.80,287.06 306.95,285.80 307.10,284.01 307.25,282.82 307.40,284.86 307.55,281.97 307.70,283.42 307.85,285.43 308.00,284.57 308.15,283.86 308.30,285.74 308.45,283.17 308.60,284.89 308.75,283.88 308.90,283.42 309.05,285.12 309.20,283.22 309.35,286.97 309.50,283.73 309.65,287.06 309.80,283.03 309.95,285.23 310.10,282.86 310.25,282.66 310.40,284.59 310.55,285.25 310.70,282.69 310.85,285.87 311.00,283.28 311.15,284.47 311.30,284.77 311.45,285.04 311.60,281.91 311.75,286.34 311.90,284.95 312.05,283.65 312.20,282.86 312.35,281.97 312.50,282.39 312.65,284.85 312.80,283.68 312.95,282.64 313.10,283.41 313.25,286.11 313.40,283.63 313.55,283.28 313.70,285.78 313.85,284.60 314.00,284.04 314.15,283.18 314.30,281.93 314.45,282.41 314.60,283.29 314.75,283.61 314.90,284.34 315.05,284.58 315.20,284.13 315.35,284.11 315.50,282.50 315.65,280.99 315.80,283.09 315.95,282.51 316.10,282.89 316.25,283.36 316.40,282.09 316.55,282.24 316.70,283.54 316.85,283.81 317.00,282.80 317.15,284.29 317.30,283.35 317.45,282.31 317.60,283.69 317.75,286.09 317.90,282.77 318.05,285.18 318.20,285.46 318.35,285.64 318.50,282.64 318.65,286.35 318.80,283.90 318.95,283.45 319.10,283.50 319.25,284.61 319.40,283.92 319.55,283.65 319.70,285.57 319.85,282.99 320.00,282.60 320.15,285.00 320.30,284.91 320.45,285.43 320.60,282.62 320.75,285.43 320.90,284.66 321.05,286.33 321.20,282.42 321.35,284.32 321.50,283.67 321.65,281.96 321.80,283.09 321.95,285.47 322.10,283.39 322.25,283.05 322.40,285.10 322.55,285.24 322.70,285.22 322.85,282.90 323.00,283.83 323.15,285.23 323.30,283.03 323.45,282.89 323.60,284.92 323.75,285.86 323.90,282.32 324.05,280.95 324.20,281.91 324.35,282.47 324.50,283.60 324.65,284.57 324.80,283.57 324.95,282.85 325.10,283.96 325.25,282.51 325.40,283.70 325.55,282.94 325.70,286.64 325.85,284.86 326.00,282.73 326.15,282.54 326.30,283.29 326.45,281.74 326.60,282.96 326.75,282.98 326.90,285.12 327.05,283.45 327.20,283.01 327.35,282.33 327.50,282.58 327.65,284.05 327.80,283.89 327.95,285.67 328.10,283.41 328.25,285.63 328.40,284.61 328.55,284.29 328.70,281.70 328.85,282.65 329.00,285.30 329.15,286.16 329.30,284.62 329.45,285.35 329.60,283.83 329.75,283.88 329.90,283.50 330.05,285.64 330.20,284.83 330.35,284.09 330.50,283.98 330.65,285.14 330.80,284.85 330.95,283.36 331.10,286.69 331.25,284.80 331.40,284.50 331.55,286.41 331.70,285.84 331.85,284.40 332.00,285.22 332.15,283.14 332.30,283.71 332.45,281.69 332.60,286.14 332.75,282.10 332.90,285.46 333.05,283.50 333.20,283.32 333.35,284.34 333.50,284.95 333.65,285.42 333.80,286.94 333.95,285.11 334.10,285.80 334.25,283.90 334.40,285.62 334.55,284.91 334.70,284.12 334.85,284.62 335.00,284.68 335.15,285.03 335.30,285.32 335.45,284.15 335.60,283.86 335.75,285.80 335.90,282.63 336.05,284.04 336.20,286.86 336.35,281.98 336.50,283.93 336.65,285.71 336.80,282.66 336.95,287.64 337.10,281.90 337.25,286.60 337.40,286.73 337.55,285.87 337.70,284.36 337.85,285.08 338.00,283.41 338.15,285.60 338.30,283.06 338.45,284.12 338.60,285.74 338.75,282.97 338.90,283.91 339.05,284.57 339.20,282.58 339.35,285.81 339.50,284.72 339.65,282.27 339.70,284.16 339.80,283.19 339.90,283.32 339.95,284.26 340.00,283.22 340.10,285.37 340.20,283.18 340.25,285.35 340.30,284.01 340.40,285.14 340.50,283.29 340.55,283.32 340.60,282.46 340.70,284.67 340.80,285.10 340.85,286.61 340.90,285.51 341.00,284.10 341.10,283.44 341.15,284.19 341.20,283.62 341.30,285.48 341.40,284.72 341.45,282.36 341.50,282.51 341.60,284.98 341.70,283.60 341.75,283.00 341.80,284.35 341.90,282.74 342.00,282.74 342.05,282.57 342.10,281.55 342.20,283.16 342.30,282.03 342.35,282.29 342.40,282.21 342.50,282.53 342.60,282.32 342.65,282.33 342.70,282.34 342.80,282.31 342.90,282.03 342.95,282.47 343.00,282.54 343.10,282.52 343.20,283.76 343.25,283.03 343.30,283.17 343.40,283.03 343.50,282.90 343.55,284.02 343.60,284.27 343.70,281.91 343.80,284.69 343.85,284.14 343.90,284.81 344.00,284.30 344.10,282.19 344.15,282.35 344.20,286.31 344.30,284.36 344.40,282.26 344.45,284.61 344.50,283.74 344.60,281.86 344.70,281.42 344.75,282.23 344.80,284.69 344.90,284.26 345.00,283.97 345.05,284.66 345.10,285.06 345.20,281.46 345.30,283.70 345.35,282.96 345.40,282.38 345.50,283.10 345.60,283.45 345.65,283.16 345.70,281.49 345.80,282.47 345.90,285.40 345.95,281.23 346.00,280.21 346.10,282.28 346.20,282.10 346.25,281.67 346.30,279.82 346.40,281.20 346.50,279.13 346.55,278.62 346.60,278.71 346.70,278.45 346.80,278.26 346.85,277.93 346.90,277.45 347.00,277.29 347.10,276.85 347.15,276.82 347.20,276.75 347.30,276.68 347.40,277.27 347.45,276.90 347.50,277.38 347.60,277.91 347.70,278.23 347.75,278.51 347.80,279.97 347.90,277.98 348.00,280.98 348.05,282.50 348.10,280.75 348.20,281.20 348.30,282.54 348.35,284.15 348.40,280.51 348.50,282.55 348.60,282.53 348.65,283.65 348.70,283.28 348.80,284.20 348.90,283.05 348.95,283.78 349.00,282.95 349.10,283.17 349.20,284.04 349.25,284.13 349.30,282.89 349.40,286.62 349.50,284.55 349.55,283.02 349.60,286.33 349.70,284.06 349.80,285.81 349.85,285.21 349.90,285.63 350.00,285.63 350.10,284.75 350.15,285.62 350.20,288.27 350.30,282.84 350.45,285.88 350.60,286.43 350.75,284.57 350.90,284.21 351.05,288.84 351.20,285.58 351.35,288.79 351.50,286.80 351.65,286.21 351.80,286.72 351.95,286.91 352.10,287.59 352.25,286.59 352.40,286.16 352.50,286.15 352.55,287.63 352.60,286.89 352.70,284.46 352.80,284.86 352.85,286.06 352.90,284.75 353.00,284.98 353.10,284.13 353.15,284.96 353.20,285.78 353.30,286.41 353.40,285.01 353.45,287.62 353.50,284.74 353.60,287.56 353.70,285.85 353.75,285.10 353.80,283.72 353.90,281.33 354.00,283.78 354.05,284.11 354.10,286.26 354.20,281.72 354.30,285.72 354.35,282.80 354.40,283.84 354.50,280.29 354.60,282.47 354.65,281.85 354.70,282.58 354.80,281.67 354.90,280.46 354.95,281.58 355.00,281.20 355.10,280.72 355.20,280.48 355.25,280.32 355.30,279.91 355.40,279.61 355.50,279.72 355.55,279.80 355.60,279.85 355.70,279.97 355.80,280.07 355.85,280.39 355.90,280.57 356.00,280.78 356.10,280.93 356.15,283.13 356.20,282.01 356.30,281.74 356.40,281.41 356.45,282.12 356.50,283.84 356.60,284.31 356.70,283.44 356.75,283.93 356.80,283.59 356.90,282.79 357.00,286.13 357.05,285.01 357.10,287.47 357.20,283.78 357.30,284.72 357.35,286.10 357.40,284.68 357.50,283.30 357.60,283.96 357.65,285.36 357.70,285.70 357.80,285.20 357.90,286.69 357.95,286.70 358.00,285.85 358.10,285.52 358.20,285.20 358.25,286.26 358.30,286.77 358.40,285.68 358.50,286.22 358.55,285.23 358.70,283.85 358.85,284.40 359.00,286.70 359.15,286.28 359.30,287.74 359.45,285.71 359.60,286.72 359.75,287.24 359.90,286.73 360.00,284.57 360.05,285.08 360.10,285.43 360.20,283.88 360.30,285.66 360.35,286.30 360.40,284.27 360.50,287.31 360.60,284.20 360.65,284.22 360.70,284.07 360.80,283.26 360.90,284.50 360.95,283.86 361.00,285.86 361.10,284.22 361.20,283.83 361.25,282.68 361.30,280.96 361.40,282.31 361.50,280.90 361.55,283.03 361.60,281.53 361.70,283.22 361.80,281.45 361.85,281.26 361.90,280.20 362.00,279.49 362.10,279.20 362.15,279.05 362.20,277.22 362.30,277.44 362.40,277.77 362.45,275.88 362.50,275.43 362.60,274.58 362.70,273.81 362.75,274.42 362.80,273.88 362.90,273.62 363.00,273.47 363.05,273.64 363.10,273.49 363.20,274.15 363.30,274.59 363.35,274.83 363.40,275.21 363.50,275.70 363.60,277.56 363.65,277.36 363.70,277.60 363.80,279.26 363.90,279.88 363.95,279.89 364.00,280.18 364.10,282.67 364.20,281.96 364.25,281.50 364.30,280.82 364.40,282.04 364.50,281.63 364.55,283.38 364.60,283.80 364.70,281.21 364.80,284.26 364.85,285.25 364.90,284.78 365.00,283.60 365.10,286.73 365.15,284.29 365.20,283.70 365.30,284.08 365.40,285.63 365.45,286.99 365.50,287.29 365.60,286.16 365.70,284.44 365.75,285.18 365.80,284.90 365.90,285.91 366.00,283.90 366.05,286.37 366.20,287.15 366.35,286.18 366.50,287.02 366.65,285.25 366.80,284.60 366.95,285.68 367.10,288.02 367.25,287.85 367.40,285.90 367.55,288.03 367.70,286.01 367.80,288.36 367.85,286.98 367.90,285.73 368.00,287.29 368.10,285.19 368.15,284.93 368.20,284.20 368.30,286.34 368.40,285.84 368.45,285.74 368.50,285.24 368.60,287.53 368.70,284.98 368.75,284.51 368.80,286.98 368.90,287.05 369.00,285.48 369.05,282.67 369.10,284.04 369.20,285.41 369.30,284.41 369.35,286.28 369.40,282.35 369.50,284.72 369.60,282.72 369.65,285.03 369.70,283.13 369.80,283.99 369.90,281.86 369.95,281.00 370.00,281.13 370.10,281.20 370.20,280.55 370.25,281.72 370.30,281.51 370.40,280.50 370.50,279.70 370.55,279.85 370.60,279.62 370.70,279.76 370.80,279.56 370.85,279.60 370.90,279.57 371.00,279.36 371.10,279.83 371.15,279.83 371.20,280.61 371.30,280.93 371.40,280.81 371.45,281.29 371.50,282.98 371.60,281.41 371.70,281.77 371.75,282.63 371.80,282.29 371.90,282.89 372.00,284.41 372.05,286.13 372.10,281.71 372.20,284.28 372.30,284.62 372.35,284.57 372.40,284.56 372.50,284.57 372.60,286.51 372.65,284.70 372.70,285.24 372.80,285.57 372.90,285.86 372.95,285.58 373.00,287.19 373.10,286.01 373.20,286.37 373.25,286.15 373.30,284.99 373.40,285.32 373.50,285.13 373.55,286.80 373.60,285.67 373.70,285.29 373.80,287.05 373.85,287.46 374.00,284.55 374.15,289.10 374.30,286.99 374.45,286.84 374.60,288.39 374.75,287.11 374.90,286.25 375.05,289.89 375.20,285.64 375.35,286.90 375.50,288.12 375.65,285.61 375.80,286.86 375.95,287.47 376.10,289.81 376.25,285.77 376.40,286.85 376.55,287.76 376.70,286.99 376.85,285.31 377.00,287.39 377.15,286.99 377.30,287.42 377.45,288.31 377.60,288.16 377.75,287.38 377.90,287.26 378.05,285.44 378.20,286.70 378.35,287.18 378.50,286.39 378.65,287.05 378.80,285.88 378.95,288.97 379.10,289.79 379.25,286.52 379.40,287.57 379.55,286.78 379.70,288.76 379.85,287.71 380.00,287.28 380.15,286.93 380.30,287.42 380.45,286.00 380.60,288.22 380.75,286.45 380.90,288.11 381.05,287.63 381.20,288.92 381.35,287.52 381.50,288.91 381.65,286.42 381.80,288.45 381.95,287.40 382.10,287.97 382.25,287.84 382.40,288.99 382.55,285.17 382.70,288.23 382.85,285.88 383.00,289.40 383.15,285.27 383.30,286.52 383.45,285.64 383.60,289.93 383.75,286.10 383.90,287.90 384.05,287.01 384.20,285.33 384.35,287.18 384.50,288.43 384.65,287.27 384.80,288.66 384.95,286.89 385.10,287.29 385.25,286.69 385.40,287.53 385.55,289.44 385.70,287.32 385.80,287.00 385.85,285.89 385.90,285.65 386.00,288.42 386.10,284.95 386.15,285.14 386.20,286.13 386.30,285.57 386.40,288.51 386.45,283.03 386.50,286.27 386.60,286.55 386.70,283.96 386.75,284.46 386.80,285.75 386.90,287.04 387.00,283.43 387.05,282.42 387.10,285.56 387.20,285.91 387.30,283.08 387.35,280.42 387.40,284.92 387.50,282.27 387.60,283.29 387.65,281.59 387.70,280.92 387.80,280.23 387.90,281.27 387.95,280.81 388.00,277.67 388.10,278.01 388.20,278.93 388.25,277.48 388.30,276.79 388.40,276.89 388.50,276.49 388.55,276.37 388.60,276.24 388.70,276.22 388.80,276.24 388.85,276.45 388.90,276.35 389.00,276.81 389.10,277.34 389.15,278.33 389.20,278.21 389.30,278.59 389.40,279.76 389.45,280.04 389.50,281.02 389.60,281.26 389.70,283.38 389.75,283.30 389.80,282.04 389.90,282.14 390.00,284.35 390.05,284.13 390.10,283.57 390.20,282.19 390.30,282.10 390.35,285.11 390.40,285.82 390.50,286.16 390.60,283.70 390.65,286.84 390.70,284.90 390.80,286.31 390.90,286.53 390.95,285.02 391.00,285.38 391.10,283.61 391.20,285.25 391.25,284.18 391.30,287.16 391.40,286.81 391.50,288.04 391.55,287.39 391.60,286.18 391.70,287.57 391.85,286.77 392.00,288.20 392.15,287.94 392.30,286.35 392.45,287.74 392.60,287.90 392.75,287.52 392.90,289.16 393.05,290.29 393.20,287.65 393.35,287.73 393.50,285.37 393.65,288.11 393.80,287.74 393.95,285.52 394.10,288.73 394.25,289.13 394.40,287.41 394.55,287.88 394.70,287.10 394.85,289.34 395.00,286.35 395.15,287.89 395.30,290.81 395.45,288.30 395.60,288.80 395.75,287.95 395.90,286.56 396.05,287.99 396.20,288.49 396.30,286.58 396.35,288.32 396.40,289.46 396.50,289.17 396.60,285.65 396.65,286.41 396.70,285.54 396.80,288.94 396.90,288.25 396.95,288.31 397.00,286.20 397.10,285.70 397.20,287.17 397.25,287.12 397.30,285.78 397.40,286.88 397.50,287.32 397.55,286.64 397.60,284.85 397.70,283.16 397.80,285.25 397.85,285.60 397.90,284.83 398.00,284.19 398.10,283.38 398.15,284.87 398.20,283.61 398.30,283.19 398.40,281.47 398.45,281.49 398.50,281.85 398.60,280.26 398.70,279.51 398.75,279.79 398.80,280.29 398.90,279.12 399.00,278.99 399.05,278.26 399.10,278.05 399.20,277.72 399.30,277.79 399.35,277.88 399.40,277.89 399.50,278.24 399.60,278.67 399.65,278.66 399.70,278.82 399.80,279.53 399.90,280.50 399.95,280.69 400.00,281.05 400.10,281.42 400.20,281.11 400.25,281.87 400.30,281.40 400.40,284.11 400.50,280.64 400.55,283.31 400.60,286.67 400.70,283.74 400.80,283.05 400.85,284.65 400.90,286.50 401.00,284.87 401.10,286.11 401.15,285.55 401.20,285.03 401.30,288.55 401.40,285.94 401.45,285.23 401.50,285.36 401.60,286.62 401.70,286.77 401.75,287.30 401.80,286.54 401.90,284.59 402.00,287.23 402.05,286.19 402.10,286.27 402.20,284.79 402.30,286.04 402.35,285.89 402.50,286.87 402.65,285.09 402.80,287.11 402.95,287.25 403.10,285.67 403.25,286.34 403.40,286.06 403.55,288.36 403.70,284.32 403.85,286.73 404.00,284.99 404.10,286.57 404.15,288.22 404.20,286.28 404.30,287.24 404.40,285.92 404.45,289.51 404.50,288.14 404.60,288.35 404.70,285.09 404.75,285.33 404.80,288.11 404.90,286.37 405.00,286.18 405.05,286.88 405.10,284.74 405.20,287.25 405.30,286.13 405.35,286.64 405.40,285.05 405.50,286.41 405.60,284.63 405.65,286.67 405.70,286.78 405.80,286.26 405.90,285.48 405.95,285.46 406.00,281.91 406.10,285.13 406.20,283.62 406.25,283.81 406.30,283.31 406.40,282.13 406.50,282.46 406.55,283.02 406.60,283.22 406.70,281.83 406.80,281.50 406.85,282.05 406.90,281.36 407.00,281.59 407.10,281.26 407.15,281.26 407.20,281.49 407.30,281.97 407.40,281.47 407.45,282.73 407.50,282.25 407.60,283.65 407.70,283.10 407.75,282.52 407.80,284.29 407.90,285.23 408.00,286.98 408.05,286.96 408.10,286.18 408.20,285.58 408.30,285.59 408.35,286.00 408.40,285.41 408.50,286.32 408.60,283.98 408.65,287.12 408.70,286.89 408.80,289.88 408.90,288.08 408.95,286.47 409.00,287.82 409.10,285.52 409.20,286.35 409.25,284.68 409.30,288.95 409.40,287.86 409.50,285.55 409.55,286.97 409.60,288.26 409.70,287.66 409.80,287.51 409.85,285.88 409.90,286.15 410.00,287.10 410.10,288.18 410.15,285.90 410.30,285.53 410.45,288.49 410.60,285.80 410.75,288.42 410.90,287.34 411.05,288.18 411.20,289.31 411.35,287.93 411.50,288.05 411.65,285.84 411.80,286.12 411.95,287.84 412.10,288.98 412.25,288.77 412.40,289.80 412.55,287.31 412.70,287.12 412.85,288.12 413.00,286.78 413.15,286.61 413.30,285.26 413.45,287.83 413.60,285.06 413.75,287.01 413.90,284.39 414.00,287.56 414.05,284.75 414.10,287.13 414.20,283.86 414.30,285.24 414.35,287.28 414.40,284.64 414.50,285.64 414.60,284.78 414.65,282.46 414.70,285.64 414.80,285.62 414.90,283.41 414.95,285.48 415.00,283.59 415.10,283.06 415.20,284.07 415.25,283.02 415.30,286.61 415.40,281.36 415.50,283.92 415.55,284.03 415.60,279.95 415.70,279.76 415.80,282.11 415.85,280.60 415.90,281.25 416.00,281.29 416.10,279.17 416.15,278.28 416.20,277.12 416.30,278.22 416.40,276.90 416.45,277.24 416.50,276.89 416.60,275.79 416.70,276.21 416.75,275.85 416.80,275.65 416.90,275.43 417.00,275.50 417.05,275.58 417.10,275.74 417.20,275.89 417.30,277.01 417.35,277.25 417.40,277.68 417.50,277.86 417.60,279.91 417.65,279.46 417.70,277.78 417.80,279.80 417.90,281.07 417.95,282.57 418.00,281.45 418.10,282.12 418.20,282.10 418.25,284.08 418.30,282.87 418.40,283.09 418.50,283.30 418.55,285.16 418.60,283.91 418.70,282.73 418.80,285.99 418.85,284.38 418.90,285.87 419.00,286.10 419.10,287.36 419.15,287.23 419.20,285.19 419.30,285.86 419.40,284.52 419.45,288.42 419.50,286.86 419.60,288.18 419.70,286.03 419.75,283.81 419.80,288.49 419.90,286.68 420.05,286.82 420.20,286.79 420.35,287.61 420.50,287.52 420.65,284.80 420.80,288.32 420.95,286.25 421.10,286.36 421.25,289.24 421.40,288.21 421.55,286.59 421.70,284.63 421.85,287.27 422.00,287.77 422.15,286.98 422.30,285.48 422.45,286.08 422.60,285.48 422.75,287.40 422.90,288.19 423.05,288.46 423.20,286.18 423.35,287.43 423.50,287.84 423.65,286.45 423.80,286.92 423.95,289.86 424.10,287.35 424.25,288.22 424.40,286.48 424.55,287.08 424.70,284.78 424.85,286.95 425.00,288.50 425.15,289.65 425.30,288.45 425.45,287.75 425.60,286.90 425.75,286.01 425.90,286.55 426.05,287.52 426.20,285.67 426.35,287.87 426.50,285.34 426.65,284.27 426.80,285.23 426.95,284.35 427.10,284.69 427.25,287.91 427.40,286.14 427.55,286.65 427.70,287.83 427.85,287.93 428.00,285.59 428.15,287.94 428.30,286.67 428.45,286.13 428.60,286.66 428.75,284.20 428.90,284.99 429.05,285.84 429.20,286.74 429.35,285.43 429.50,285.72 429.65,287.12 429.80,287.67 429.95,286.82 430.10,287.46 430.25,285.29 430.40,285.42 430.55,286.24 430.70,285.45 430.85,285.20 431.00,288.03 431.15,285.65 431.30,284.68 431.45,286.60 431.60,288.38 431.75,286.14 431.90,287.67 432.05,285.53 432.20,285.50 432.35,285.28 432.50,286.02 432.65,288.63 432.80,284.77 432.95,288.44 433.10,285.03 433.25,286.07 433.40,287.49 433.55,287.25 433.70,286.82 433.85,284.33 434.00,286.97 434.15,285.19 434.30,289.39 434.45,286.27 434.60,286.80 434.75,285.07 434.90,285.93 435.00,284.88 435.05,287.85 435.10,286.25 435.20,287.32 435.30,285.69 435.35,285.93 435.40,288.26 435.50,285.29 435.60,284.17 435.65,287.03 435.70,285.00 435.80,285.84 435.90,287.51 435.95,285.22 436.00,287.37 436.10,285.23 436.20,287.92 436.25,287.63 436.30,285.21 436.40,285.37 436.50,284.38 436.55,285.61 436.60,286.73 436.70,283.12 436.80,285.93 436.85,282.94 436.90,283.41 437.00,282.16 437.10,285.79 437.15,283.61 437.20,283.59 437.30,282.49 437.40,283.32 437.45,281.19 437.50,282.28 437.60,282.88 437.70,281.51 437.75,281.51 437.80,281.54 437.90,281.14 438.00,281.14 438.05,281.23 438.10,281.26 438.20,281.50 438.30,281.56 438.35,281.94 438.40,282.00 438.50,283.11 438.60,283.17 438.65,282.71 438.70,281.40 438.80,284.06 438.90,284.53 438.95,283.01 439.00,281.93 439.10,283.04 439.20,285.87 439.25,283.37 439.30,284.25 439.40,285.33 439.50,286.81 439.55,285.25 439.60,285.20 439.70,284.76 439.80,287.71 439.85,287.01 439.90,285.54 440.00,283.95 440.10,284.82 440.15,286.63 440.20,284.97 440.30,287.14 440.40,286.51 440.45,286.45 440.50,286.94 440.60,286.80 440.70,285.09 440.75,285.80 440.80,289.11 440.90,284.73 441.00,285.73 441.05,287.75 441.20,286.22 441.35,285.43 441.50,284.81 441.65,287.27 441.80,287.94 441.95,288.48 442.10,286.76 442.25,288.08 442.40,285.41 442.55,287.00 442.70,285.93 442.85,287.07 443.00,287.84 443.15,288.28 443.30,285.63 443.45,288.59 443.60,286.35 443.75,285.65 443.90,286.79 444.05,285.13 444.20,287.06 444.35,287.45 444.50,286.84 444.65,287.82 444.80,286.74 444.95,287.17 445.10,285.32 445.25,287.27 445.40,286.12 445.55,286.66 445.70,287.14 445.85,287.52 446.00,285.14 446.15,285.26 446.30,286.91 446.45,287.92 446.60,287.78 446.75,288.47 446.90,289.00 447.05,287.94 447.20,287.23 447.35,285.88 447.50,285.95 447.65,286.53 447.80,287.45 447.95,287.35 448.10,287.04 448.25,286.81 448.40,287.80 448.55,287.22 448.70,287.32 448.85,287.31 449.00,286.18 449.15,285.53 449.30,287.50 449.45,287.39 449.60,286.55 449.75,286.28 449.90,289.67 450.05,285.81 450.20,286.50 450.35,287.11 450.50,285.24 450.65,286.87 450.80,289.03 450.95,287.88 451.10,287.45 451.25,287.36 451.40,286.70 451.55,287.75 451.70,286.25 451.85,285.86 452.00,286.48 452.15,287.46 452.30,286.64 452.45,287.01 452.60,283.42 452.75,287.53 452.90,288.76 453.05,287.55 453.20,285.33 453.35,284.56 453.50,285.94 453.65,284.23 453.80,286.38 453.95,284.69 454.10,286.55 454.25,287.01 454.40,282.54 454.55,285.51 454.70,284.18 454.85,283.21 455.00,284.20 455.15,284.68 455.30,286.27 455.45,282.92 455.60,286.24 455.75,287.48 455.90,285.61 456.05,285.54 456.20,284.85 456.35,283.38 456.50,285.63 456.65,285.47 456.80,285.96 456.95,287.90 457.10,286.01 457.25,285.65 457.40,287.15 457.55,283.39 457.70,283.67 457.85,284.69 458.00,284.34 458.15,286.10 458.30,284.79 458.45,287.47 458.60,287.19 458.75,286.21 458.90,284.71 459.05,286.01 459.20,286.26 459.35,283.82 459.50,285.65 459.65,286.12 459.80,285.48 459.95,287.24 460.10,286.78 460.25,284.13 460.40,285.37 460.55,284.12 460.70,285.97 460.85,284.11 461.00,286.45 461.15,285.78 461.30,286.56 461.45,285.14 461.60,283.47 461.75,287.70 461.90,285.22 462.05,287.29 462.20,286.11 462.35,286.48 462.50,288.05 462.65,286.18 462.80,287.62 462.95,283.94 463.10,287.07 463.25,285.70 463.40,285.90 463.55,286.15 463.70,286.66 463.85,288.42 464.00,283.90 464.15,286.37 464.30,285.37 464.45,287.80 464.60,285.70 464.75,286.81 464.90,285.66 465.05,286.99 465.20,287.38 465.35,285.47 465.50,285.98 465.65,283.99 465.80,286.14 465.95,286.76 466.10,284.84 466.25,286.92 466.40,282.67 466.55,282.86 466.70,283.37 466.85,284.46 467.00,285.03 467.15,284.82 467.30,284.76 467.45,285.71 467.60,284.10 467.75,283.01 467.90,282.99 468.05,287.33 468.20,281.75 468.35,284.42 468.50,286.59 468.65,285.37 468.80,283.72 468.95,284.85 469.10,286.04 469.25,286.55 469.40,283.88 469.55,286.11 469.70,285.52 469.85,286.70 470.00,287.14 470.15,284.96 470.30,283.60 470.45,286.07 470.60,287.94 470.75,286.59 470.90,286.07 471.05,288.69 471.20,284.55 471.35,287.14 471.50,285.28 471.65,286.14 471.80,286.25 471.95,288.15 472.10,285.00 472.25,285.55 472.40,284.21 472.55,286.93 472.70,285.72 472.85,286.88 473.00,284.95 473.15,285.89 473.30,287.71 473.45,286.14 473.60,287.18 473.75,287.05 473.90,285.90 474.05,284.34 474.20,287.64 474.35,286.59 474.50,287.64 474.65,283.75 474.80,284.23 474.95,283.61 475.10,285.27 475.25,287.78 475.40,287.19 475.55,286.44 475.70,286.69 475.85,287.54 476.00,286.20 476.15,287.05 476.30,286.66 476.45,283.57 476.60,285.86 476.75,288.07 476.90,285.73 477.05,285.99 477.20,285.32 477.35,285.41 477.50,287.43 477.65,285.54 477.80,284.47 477.95,282.85 478.10,284.86 478.25,282.95 478.40,283.02 478.55,286.31 478.70,286.08 478.85,282.54 479.00,286.01 479.15,285.33 479.30,283.55 479.45,285.35 479.60,282.11 479.75,282.49 479.90,282.01 480.05,282.27 480.20,284.69 480.35,281.65 480.50,281.72 480.65,281.82 480.80,283.16 480.95,282.31 481.10,283.73 481.25,281.54 481.40,280.65 481.55,281.58 481.70,282.27 481.85,281.00 482.00,282.56 482.15,284.56 482.30,281.45 482.45,282.27 482.60,283.98 482.75,281.40 482.90,281.16 483.05,280.87 483.20,282.83 483.35,283.02 483.50,282.19 483.65,282.47 483.80,284.12 483.95,283.63 484.10,280.73 484.25,282.58 484.40,282.78 484.55,283.63 484.70,282.46 484.85,281.96 485.00,282.26 485.15,280.66 485.30,283.05 485.45,282.43 485.60,283.92 485.75,282.09 485.90,282.96 486.05,282.36 486.20,282.35 486.35,284.74 486.50,283.31 486.65,284.58 486.80,282.63 486.95,284.29 487.10,282.04 487.25,283.69 487.40,283.72 487.55,285.19 487.70,284.73 487.85,284.33 488.00,285.70 488.15,284.92 488.30,285.43 488.45,285.78 488.60,284.76 488.75,284.53 488.90,285.40 489.05,284.50 489.20,285.61 489.35,286.62 489.50,286.36 489.65,284.83 489.80,283.73 489.95,285.41 490.10,285.40 490.25,287.08 490.40,285.24 490.55,285.55 490.70,286.86 490.85,285.37 491.00,285.86 491.15,288.31 491.30,288.03 491.45,286.92 491.60,286.46 491.75,284.86 491.90,286.85 492.05,286.20 492.20,286.41 492.35,285.44 492.50,286.09 492.65,285.86 492.80,286.49 492.95,287.92 493.10,286.52 493.25,283.88 493.40,284.75 493.55,283.94 493.70,284.94 493.85,286.67 494.00,286.44 494.15,285.12 494.30,286.21 494.45,284.85 494.60,283.96 494.75,283.95 494.90,284.62 495.05,287.54 495.20,283.92 495.35,287.23 495.50,287.30 495.65,285.30 495.80,285.43 495.95,284.65 496.10,285.37 496.25,286.21 496.40,285.33 496.55,286.58 496.70,286.79 496.85,285.67 497.00,285.62 497.15,285.10 497.30,285.61 497.45,283.71 497.60,285.68 497.75,285.42 497.90,284.04 498.05,287.95 498.20,283.91 498.35,284.06 498.50,285.57 498.65,282.72 498.80,284.24 498.95,283.32 499.10,284.08 499.25,285.20 499.40,285.82 499.55,286.87 499.70,286.52 499.85,287.05 500.00,286.30 500.15,284.96 500.30,287.04 500.45,284.98 500.60,284.84 500.75,287.64 500.90,286.69 501.05,285.97 501.20,286.66 501.35,286.83 501.50,283.93 501.65,285.57 501.80,284.16 501.95,285.84 502.10,284.81 502.25,287.43 502.40,286.33 502.55,284.59 502.70,285.60 502.85,284.03 503.00,285.64 503.15,286.27 503.30,285.88 503.45,283.00 503.60,285.04 503.75,286.11 503.90,285.81 504.05,286.88 504.20,283.67 504.35,285.98 504.50,284.41 504.65,285.47 504.80,285.70 504.95,286.02 505.10,284.34 505.25,285.28 505.40,283.48 505.55,283.12 505.70,285.64 505.85,284.81 506.00,282.74 506.15,283.71 506.30,284.81 506.45,286.78 506.60,286.09 506.75,285.76 506.90,282.38 507.05,284.57 507.20,285.31 507.35,285.20 507.50,285.23 507.65,284.40" fill="none" stroke="#000" stroke-width="1.8" stroke-linejoin="round" stroke-linecap="round"/>
<polyline points="10.70,243.00 11.00,243.51 11.30,244.02 11.60,244.52 11.90,245.03 12.20,245.34 12.50,245.55 12.80,245.76 13.10,245.97 13.40,246.18 13.70,246.39 14.00,246.60 14.30,246.70 14.60,246.81 14.90,246.91 15.20,247.01 15.50,247.11 15.80,247.22 16.10,247.32 16.40,247.42 16.70,247.53 17.00,247.63 17.30,247.73 17.60,247.83 17.90,247.94 18.20,248.04 18.50,248.14 18.80,248.25 19.10,248.35 19.40,248.45 19.70,248.55 20.00,248.66 20.30,248.76 20.60,248.86 20.90,248.97 21.20,249.11 21.50,249.28 21.80,249.45 22.10,249.62 22.40,249.79 22.70,249.96 23.00,250.12 23.30,250.29 23.60,250.46 23.90,250.63 24.20,250.80 24.50,250.97 24.80,251.14 25.10,251.31 25.40,251.47 25.70,251.64 26.00,251.81 26.30,251.98 26.60,252.15 26.90,252.32 27.20,252.49 27.50,252.66 27.80,252.82 28.10,252.99 28.40,253.16 28.70,253.33 29.00,253.50 29.30,253.66 29.60,253.82 29.90,253.98 30.20,254.14 30.50,254.31 30.80,254.47 31.10,254.63 31.40,254.79 31.70,254.95 32.00,255.11 32.30,255.27 32.60,255.43 32.90,255.60 33.20,255.76 33.50,255.92 33.80,256.08 34.10,256.24 34.40,256.40 34.70,256.56 35.00,256.72 35.30,256.89 35.60,257.05 35.90,257.21 36.20,257.37 36.50,257.53 36.80,257.69 37.10,257.83 37.40,257.93 37.70,258.04 38.00,258.14 38.30,258.24 38.60,258.34 38.90,258.44 39.20,258.54 39.50,258.64 39.80,258.74 40.10,258.85 40.40,258.95 40.70,259.05 41.00,259.15 41.30,259.25 41.60,259.35 41.90,259.45 42.20,259.55 42.50,259.66 42.80,259.76 43.10,259.86 43.40,259.96 43.70,260.06 44.00,260.16 44.30,260.26 44.60,260.36 44.90,260.47 45.20,260.55 45.50,260.63 45.80,260.71 46.10,260.79 46.40,260.87 46.70,260.95 47.00,261.02 47.30,261.10 47.60,261.18 47.90,261.26 48.20,261.34 48.50,261.42 48.80,261.50 49.10,261.58 49.40,261.65 49.70,261.73 50.00,261.81 50.30,261.89 50.60,261.97 50.90,262.05 51.20,262.13 51.50,262.21 51.80,262.28 52.10,262.36 52.40,262.44 52.70,262.52 53.00,262.60 53.30,262.67 53.60,262.74 53.90,262.81 54.20,262.88 54.50,262.96 54.80,263.03 55.10,263.10 55.40,263.17 55.70,263.24 56.00,263.31 56.30,263.38 56.60,263.45 56.90,263.53 57.20,263.60 57.50,263.67 57.80,263.74 58.10,263.81 58.40,263.88 58.70,263.95 59.00,264.02 59.30,264.10 59.60,264.17 59.90,264.24 60.20,264.31 60.50,264.38 60.80,264.45 61.10,264.52 61.40,264.56 61.70,264.61 62.00,264.66 62.30,264.71 62.60,264.76 62.90,264.81 63.20,264.86 63.50,264.91 63.80,264.95 64.10,265.00 64.40,265.05 64.70,265.10 65.00,265.15 65.30,265.20 65.60,265.25 65.90,265.30 66.20,265.34 66.50,265.39 66.80,265.44 67.10,265.49 67.40,265.54 67.70,265.59 68.00,265.64 68.30,265.69 68.60,265.73 68.90,265.78 69.20,265.82 69.50,265.86 69.80,265.90 70.10,265.94 70.40,265.97 70.70,266.01 71.00,266.05 71.30,266.09 71.60,266.12 71.90,266.16 72.20,266.20 72.50,266.24 72.80,266.27 73.10,266.31 73.40,266.35 73.70,266.39 74.00,266.42 74.30,266.46 74.60,266.50 74.90,266.54 75.20,266.57 75.50,266.56 75.80,266.44 76.10,266.33 76.40,266.21 76.70,266.10 77.00,265.98 77.30,265.87 77.60,265.75 77.90,265.64 78.20,265.40 78.50,265.10 78.80,264.80 79.10,264.50 79.40,264.20 79.70,263.90 80.00,263.60 80.30,263.46 80.60,263.32 80.90,263.18 81.20,263.04 81.50,262.90 81.80,262.76 82.10,262.62 82.40,262.48 82.70,262.34 83.00,262.20 83.30,262.23 83.60,262.26 83.90,262.29 84.20,262.32 84.50,262.35 84.80,262.38 85.10,262.41 85.40,262.44 85.70,262.47 86.00,262.50 86.30,262.53 86.60,262.56 86.90,262.59 87.20,262.62 87.50,262.65 87.80,262.68 88.10,262.71 88.40,262.74 88.70,262.77 89.00,262.80 89.30,262.83 89.60,262.86 89.90,262.89 90.20,262.92 90.50,262.94 90.80,262.97 91.10,262.99 91.40,262.97 91.70,262.96 92.00,262.94 92.30,262.93 92.60,262.91 92.90,262.90 93.20,262.88 93.50,262.87 93.80,262.85 94.10,262.83 94.40,262.82 94.70,262.80 95.00,262.79 95.30,262.76 95.60,262.72 95.90,262.69 96.20,262.66 96.50,262.63 96.80,262.60 97.10,262.57 97.40,262.53 97.70,262.50 98.00,262.46 98.30,262.43 98.60,262.39 98.90,262.36 99.20,262.25 99.50,262.12 99.80,261.98 100.10,261.84 100.40,261.69 100.70,261.53 101.00,261.35 101.15,261.26 101.30,261.16 101.45,261.05 101.60,260.93 101.75,260.79 101.90,260.64 102.05,260.45 102.20,260.24 102.35,259.97 102.50,259.64 102.65,259.21 102.80,258.64 102.95,257.87 103.10,256.81 103.25,255.35 103.40,253.36 103.55,250.81 103.70,247.93 103.85,245.44 104.00,244.39 104.15,245.31 104.30,247.66 104.45,250.40 104.60,252.82 104.75,254.67 104.90,256.00 105.05,256.92 105.20,257.56 105.35,257.99 105.50,258.28 105.65,258.47 105.80,258.59 105.95,258.65 106.10,258.66 106.25,258.63 106.40,258.57 106.55,258.49 106.65,258.43 106.75,258.36 106.85,258.28 106.95,258.19 107.05,258.09 107.25,257.85 107.35,257.72 107.55,257.40 107.65,257.21 107.85,256.75 107.95,256.46 108.15,255.74 108.25,255.27 108.45,254.05 108.55,253.23 108.75,251.04 108.85,249.57 109.05,245.71 109.15,243.32 109.35,238.09 109.45,235.78 109.65,233.52 109.75,234.02 109.95,237.73 110.05,240.23 110.25,244.99 110.35,246.96 110.55,249.95 110.65,251.04 110.85,252.60 110.95,253.15 111.15,253.93 111.25,254.21 111.45,254.59 111.55,254.73 111.75,254.90 111.85,254.96 112.05,255.02 112.15,255.03 112.35,255.03 112.45,255.02 112.65,254.93 112.85,254.67 113.15,254.27 113.45,253.85 113.75,253.41 114.05,252.97 114.35,252.52 114.65,252.06 114.95,251.60 115.25,251.40 115.55,251.24 115.85,251.09 116.15,250.94 116.45,250.78 116.75,250.63 117.05,250.47 117.35,250.31 117.65,250.16 117.95,250.00 118.25,249.90 118.55,249.82 118.85,249.73 119.15,249.64 119.45,249.55 119.75,249.47 120.05,249.38 120.35,249.29 120.65,249.20 120.95,249.12 121.25,249.03 121.55,249.01 121.85,249.07 122.15,249.13 122.45,249.19 122.75,249.25 123.05,249.30 123.35,249.36 123.65,249.42 123.95,249.48 124.25,249.61 124.55,249.76 124.85,249.91 125.15,250.06 125.45,250.21 125.75,250.36 126.05,250.51 126.35,250.81 126.65,251.25 126.95,251.69 127.25,252.14 127.55,252.58 127.85,253.02 128.15,253.47 128.45,253.91 128.75,254.52 129.05,255.17 129.35,255.82 129.65,256.47 129.95,257.11 130.25,257.76 130.55,258.41 130.85,259.06 131.15,259.57 131.45,259.94 131.75,260.32 132.05,260.69 132.35,261.06 132.65,261.44 132.95,261.81 133.25,262.19 133.55,262.56 133.85,262.93 134.15,263.31 134.45,263.68 134.75,264.05 135.05,264.40 135.35,264.62 135.65,264.85 135.95,265.07 136.25,265.29 136.55,265.51 136.85,265.74 137.15,265.96 137.45,266.18 137.75,266.40 138.05,266.62 138.35,266.84 138.65,267.06 138.95,267.28 139.25,267.60 139.55,267.94 139.85,268.28 140.15,268.62 140.45,268.96 140.75,269.30 141.05,269.63 141.35,269.96 141.65,270.29 141.95,270.62 142.25,270.94 142.55,271.25 142.85,271.56 143.15,271.85 143.45,272.14 143.75,272.41 144.05,272.62 144.35,272.79 144.65,272.92 144.95,272.99 145.25,272.96 145.45,272.86 145.65,272.68 145.75,272.55 145.95,272.17 146.05,271.91 146.25,271.16 146.35,270.61 146.55,269.17 146.65,268.21 146.85,265.63 146.95,263.88 147.15,258.98 147.25,255.54 147.45,245.57 147.55,238.37 147.75,217.18 147.85,202.06 148.05,161.25 148.15,137.15 148.35,97.28 148.45,90.98 148.65,114.35 148.75,137.32 148.95,183.63 149.05,202.39 149.25,229.54 149.35,238.87 149.55,251.77 149.65,256.20 149.85,262.47 149.95,264.70 150.15,267.98 150.25,269.19 150.45,271.04 150.55,271.75 150.75,272.86 150.85,273.30 151.05,274.01 151.15,274.29 151.35,274.77 151.45,274.96 151.70,275.35 152.00,275.69 152.30,275.93 152.60,276.06 152.90,276.13 153.20,276.14 153.50,276.08 153.80,275.95 154.10,275.74 154.40,275.42 154.70,274.94 155.00,274.26 155.30,273.28 155.55,272.12 155.65,271.54 155.85,270.12 155.95,269.25 156.15,267.09 156.25,265.74 156.45,262.33 156.55,260.16 156.75,254.59 156.85,250.99 157.05,241.54 157.15,235.35 157.35,218.90 157.45,208.09 157.65,179.80 157.75,161.90 157.95,119.14 158.05,95.88 158.25,54.73 158.35,41.99 158.55,42.04 158.65,54.84 158.85,96.10 158.95,119.41 159.15,162.28 159.25,180.23 159.45,208.62 159.55,219.49 159.75,236.04 159.85,242.29 160.05,251.85 160.15,255.50 160.35,261.18 160.45,263.40 160.65,266.92 160.75,268.33 160.95,270.60 161.05,271.53 161.25,273.06 161.35,273.70 161.60,275.00 161.90,276.16 162.20,277.02 162.50,277.71 162.80,278.26 163.10,278.71 163.40,279.09 163.70,279.41 164.00,279.69 164.30,279.94 164.60,280.16 164.90,280.37 165.20,280.56 165.50,280.73 165.80,280.90 166.10,281.05 166.40,281.21 166.70,281.35 167.00,281.49 167.30,281.63 167.60,281.76 167.90,281.89 168.20,282.01 168.50,282.13 168.80,282.16 169.10,282.14 169.40,282.12 169.70,282.09 170.00,282.07 170.30,282.04 170.60,282.00 170.90,281.96 171.20,281.92 171.50,281.87 171.80,281.82 172.10,281.76 172.40,281.68 172.70,281.59 173.00,281.48 173.30,281.34 173.60,281.16 173.75,281.05 173.90,280.93 174.05,280.79 174.20,280.62 174.35,280.43 174.50,280.20 174.65,279.93 174.80,279.61 174.95,279.24 175.10,278.79 175.25,278.28 175.40,277.67 175.55,276.97 175.70,276.19 175.85,275.32 176.00,274.41 176.15,273.52 176.30,272.70 176.45,272.07 176.60,271.69 176.75,271.62 176.90,271.87 177.05,272.41 177.20,273.15 177.35,274.00 177.50,274.89 177.65,275.75 177.80,276.54 177.95,277.24 178.10,277.85 178.25,278.37 178.40,278.81 178.55,279.18 178.70,279.49 178.85,279.75 179.00,279.97 179.15,280.15 179.30,280.30 179.45,280.42 179.60,280.53 179.75,280.62 180.05,280.75 180.35,280.84 180.65,280.91 180.95,280.95 181.25,280.98 181.55,281.00 181.85,281.02 182.15,281.03 182.45,281.04 182.75,281.04 183.05,281.04 183.35,281.03 183.65,281.02 183.95,281.00 184.25,280.98 184.55,280.95 184.85,280.92 185.15,280.87 185.45,280.82 185.75,280.75 186.00,280.67 186.10,280.64 186.30,280.56 186.40,280.51 186.60,280.41 186.70,280.34 186.90,280.19 187.00,280.11 187.20,279.90 187.30,279.78 187.50,279.49 187.60,279.32 187.80,278.93 187.90,278.71 188.10,278.21 188.20,277.95 188.40,277.40 188.50,277.14 188.70,276.70 188.80,276.54 189.00,276.40 189.10,276.42 189.30,276.65 189.40,276.83 189.60,277.29 189.70,277.55 189.90,278.05 190.00,278.29 190.20,278.71 190.30,278.89 190.50,279.20 190.60,279.33 190.80,279.53 190.90,279.61 191.10,279.74 191.20,279.79 191.40,279.85 191.50,279.87 191.70,279.88 191.80,279.87 192.00,279.83 192.20,279.76 192.40,279.65 192.60,279.49 192.70,279.40 192.90,279.16 193.00,279.01 193.20,278.65 193.30,278.43 193.50,277.88 193.60,277.54 193.80,276.70 193.90,276.19 194.10,274.90 194.20,274.12 194.40,272.22 194.50,271.10 194.70,268.54 194.80,267.15 195.00,264.43 195.10,263.25 195.30,261.72 195.40,261.51 195.60,262.31 195.70,263.23 195.90,265.72 196.00,267.10 196.20,269.80 196.30,271.02 196.50,273.14 196.60,274.02 196.80,275.48 196.90,276.06 197.10,277.02 197.20,277.40 197.40,278.02 197.50,278.27 197.70,278.67 197.80,278.83 198.00,279.10 198.10,279.21 198.30,279.38 198.40,279.45 198.65,279.58 198.95,279.68 199.25,279.73 199.55,279.73 199.85,279.69 200.15,279.62 200.45,279.51 200.75,279.34 201.05,279.09 201.30,278.79 201.40,278.65 201.60,278.29 201.70,278.08 201.90,277.56 202.00,277.25 202.20,276.49 202.30,276.02 202.50,274.88 202.60,274.19 202.80,272.48 202.90,271.45 203.10,268.95 203.20,267.48 203.40,264.09 203.50,262.23 203.70,258.40 203.80,256.61 204.00,253.83 204.10,253.05 204.30,253.06 204.40,253.85 204.60,256.66 204.70,258.46 204.90,262.30 205.00,264.18 205.20,267.59 205.30,269.07 205.50,271.59 205.60,272.64 205.80,274.37 205.90,275.08 206.10,276.24 206.20,276.72 206.40,277.51 206.50,277.83 206.70,278.38 206.80,278.60 207.00,278.99 207.10,279.15 207.35,279.48 207.65,279.78 207.95,280.01 208.25,280.19 208.55,280.32 208.85,280.43 209.15,280.52 209.45,280.59 209.75,280.65 210.05,280.70 210.35,280.74 210.65,280.78 210.95,280.81 211.25,280.83 211.55,280.85 211.85,280.87 212.15,280.88 212.45,280.90 212.75,280.90 213.05,280.91 213.35,280.90 213.65,280.90 213.95,280.88 214.25,280.86 214.55,280.83 214.85,280.79 215.15,280.73 215.45,280.65 215.75,280.54 216.05,280.39 216.35,280.17 216.50,280.03 216.65,279.87 216.80,279.67 216.95,279.43 217.10,279.14 217.25,278.78 217.40,278.35 217.55,277.81 217.70,277.16 217.85,276.34 218.00,275.34 218.15,274.10 218.30,272.59 218.45,270.78 218.60,268.67 218.75,266.32 218.90,263.89 219.05,261.63 219.20,259.89 219.35,259.02 219.50,259.20 219.65,260.40 219.80,262.36 219.95,264.72 220.10,267.16 220.25,269.45 220.40,271.47 220.55,273.19 220.70,274.61 220.85,275.77 221.00,276.72 221.15,277.48 221.30,278.10 221.45,278.61 221.60,279.02 221.75,279.36 221.90,279.64 222.05,279.87 222.20,280.06 222.35,280.22 222.50,280.36 222.80,280.57 223.10,280.71 223.40,280.82 223.70,280.89 224.00,280.94 224.30,280.93 224.60,280.90 224.90,280.85 225.20,280.78 225.50,280.70 225.80,280.58 226.10,280.44 226.40,280.26 226.70,280.03 227.00,279.73 227.30,279.34 227.60,278.83 227.80,278.40 228.00,277.87 228.10,277.56 228.30,276.83 228.40,276.40 228.60,275.37 228.70,274.76 228.90,273.29 229.00,272.42 229.20,270.33 229.30,269.08 229.50,266.13 229.60,264.40 229.80,260.41 229.90,258.18 230.10,253.37 230.20,250.92 230.40,246.36 230.50,244.48 230.70,242.12 230.80,241.80 231.00,243.01 231.10,244.44 231.30,248.46 231.40,250.82 231.60,255.69 231.70,258.04 231.90,262.32 232.00,264.21 232.20,267.47 232.30,268.85 232.50,271.18 232.60,272.14 232.80,273.76 232.90,274.44 233.10,275.56 233.20,276.03 233.40,276.82 233.50,277.15 233.70,277.71 233.80,277.95 234.05,278.44 234.35,278.88 234.65,279.21 234.95,279.45 235.25,279.63 235.55,279.77 235.85,279.88 236.15,279.95 236.45,280.01 236.75,280.05 237.05,280.08 237.35,280.10 237.65,280.11 237.95,280.12 238.25,280.11 238.55,280.11 238.85,280.09 239.15,280.08 239.45,280.05 239.75,280.03 240.05,280.00 240.35,279.99 240.65,279.97 240.95,279.95 241.25,279.92 241.55,279.88 241.85,279.82 242.15,279.75 242.45,279.65 242.75,279.53 243.05,279.35 243.35,279.11 243.50,278.96 243.65,278.78 243.80,278.56 243.95,278.30 244.10,277.99 244.25,277.61 244.40,277.14 244.55,276.57 244.70,275.87 244.85,275.01 245.00,273.94 245.15,272.63 245.30,271.04 245.45,269.12 245.60,266.89 245.75,264.41 245.90,261.84 246.05,259.45 246.20,257.62 246.35,256.68 246.50,256.86 246.65,258.10 246.80,260.13 246.95,262.59 247.10,265.13 247.25,267.50 247.40,269.59 247.55,271.36 247.70,272.81 247.85,273.98 248.00,274.92 248.15,275.66 248.30,276.25 248.45,276.69 248.60,277.03 248.75,277.28 248.90,277.44 249.05,277.53 249.20,277.56 249.35,277.52 249.50,277.43 249.65,277.28 249.80,277.08 249.95,276.82 250.10,276.53 250.25,276.21 250.40,275.89 250.55,275.59 250.70,275.35 250.85,275.20 251.00,275.16 251.15,275.24 251.30,275.43 251.45,275.72 251.60,276.06 251.75,276.43 251.90,276.81 252.05,277.17 252.20,277.49 252.35,277.78 252.50,278.03 252.65,278.24 252.80,278.41 252.95,278.55 253.10,278.66 253.25,278.74 253.40,278.79 253.55,278.83 253.70,278.83 253.85,278.82 254.00,278.78 254.30,278.64 254.60,278.40 254.90,278.03 255.05,277.78 255.20,277.48 255.35,277.12 255.50,276.69 255.65,276.16 255.80,275.53 255.95,274.77 256.10,273.85 256.25,272.73 256.40,271.37 256.55,269.73 256.70,267.76 256.85,265.43 257.00,262.70 257.15,259.60 257.30,256.23 257.45,252.79 257.60,249.58 257.75,247.00 257.90,245.46 258.05,245.24 258.20,246.37 258.35,248.65 258.50,251.70 258.65,255.12 258.80,258.55 258.95,261.77 259.10,264.63 259.25,267.11 259.40,269.21 259.55,270.97 259.70,272.42 259.85,273.63 260.00,274.63 260.15,275.46 260.30,276.15 260.45,276.72 260.60,277.20 260.75,277.61 260.90,277.95 261.05,278.24 261.35,278.71 261.65,279.05 261.95,279.31 262.25,279.51 262.55,279.66 262.85,279.78 263.15,279.88 263.45,279.96 263.75,280.02 264.05,280.08 264.35,280.12 264.65,280.16 264.95,280.19 265.25,280.21 265.55,280.23 265.85,280.25 266.15,280.27 266.45,280.28 266.75,280.29 267.05,280.29 267.35,280.30 267.65,280.30 267.95,280.30 268.25,280.30 268.55,280.30 268.85,280.29 269.15,280.28 269.45,280.27 269.75,280.25 270.05,280.24 270.35,280.28 270.65,280.31 270.95,280.33 271.25,280.33 271.40,280.32 271.55,280.30 271.70,280.28 271.85,280.25 272.00,280.20 272.15,280.14 272.30,280.06 272.45,279.95 272.60,279.82 272.75,279.66 272.90,279.46 273.05,279.22 273.20,278.93 273.35,278.58 273.50,278.19 273.65,277.77 273.80,277.33 273.95,276.93 274.10,276.59 274.25,276.37 274.40,276.29 274.55,276.32 274.70,276.44 274.85,276.59 275.00,276.71 275.15,276.77 275.30,276.71 275.45,276.52 275.60,276.17 275.75,275.62 275.90,274.87 276.05,273.88 276.20,272.62 276.35,271.09 276.50,269.31 276.65,267.34 276.80,265.33 276.95,263.50 277.10,262.12 277.25,261.47 277.40,261.68 277.55,262.72 277.70,264.40 277.85,266.46 278.00,268.62 278.15,270.68 278.30,272.55 278.45,274.17 278.60,275.54 278.75,276.67 278.90,277.61 279.05,278.38 279.20,279.02 279.35,279.54 279.50,279.96 279.65,280.32 279.80,280.60 279.95,280.84 280.10,281.03 280.25,281.19 280.40,281.31 280.70,281.47 281.00,281.52 281.30,281.37 281.45,281.25 281.60,281.09 281.75,280.89 281.90,280.64 282.05,280.32 282.20,279.94 282.35,279.47 282.50,278.89 282.65,278.18 282.80,277.30 282.95,276.24 283.10,274.94 283.25,273.40 283.40,271.60 283.55,269.57 283.70,267.40 283.85,265.26 284.00,263.41 284.15,262.13 284.30,261.66 284.45,262.09 284.60,263.32 284.75,265.13 284.90,267.22 285.05,269.34 285.20,271.32 285.35,273.06 285.50,274.55 285.65,275.77 285.80,276.77 285.95,277.56 286.10,278.17 286.25,278.65 286.40,278.99 286.55,279.23 286.70,279.37 286.85,279.41 287.00,279.37 287.15,279.23 287.30,279.00 287.45,278.67 287.60,278.21 287.75,277.64 287.90,276.92 288.05,276.07 288.20,275.10 288.35,274.05 288.50,273.00 288.65,272.06 288.80,271.36 288.95,271.02 289.10,271.11 289.25,271.61 289.40,272.44 289.55,273.47 289.70,274.57 289.85,275.65 290.00,276.63 290.15,277.50 290.30,278.24 290.45,278.86 290.60,279.37 290.75,279.79 290.90,280.13 291.05,280.41 291.20,280.63 291.35,280.81 291.50,280.95 291.65,281.06 291.80,281.15 291.95,281.21 292.10,281.27 292.40,281.37 292.70,281.40 293.00,281.37 293.30,281.28 293.60,281.10 293.80,280.93 294.00,280.70 294.10,280.56 294.30,280.22 294.40,280.01 294.60,279.50 294.70,279.20 294.90,278.45 295.00,277.99 295.20,276.88 295.30,276.21 295.50,274.59 295.60,273.63 295.80,271.38 295.90,270.09 296.10,267.26 296.20,265.79 296.40,263.00 296.50,261.82 296.70,260.28 296.80,260.03 297.00,260.65 297.10,261.45 297.30,263.71 297.40,265.01 297.60,267.62 297.70,268.83 297.90,270.93 298.00,271.79 298.20,273.14 298.30,273.63 298.50,274.26 298.60,274.42 298.80,274.45 298.90,274.32 299.10,273.78 299.20,273.37 299.40,272.27 299.50,271.58 299.70,269.91 299.80,268.93 300.00,266.73 300.10,265.52 300.30,262.99 300.40,261.72 300.60,259.36 300.70,258.36 300.90,256.93 301.00,256.57 301.20,256.67 301.30,257.14 301.50,258.78 301.60,259.89 301.80,262.48 301.90,263.87 302.10,266.66 302.20,268.01 302.40,270.52 302.50,271.67 302.70,273.73 302.80,274.64 303.00,276.23 303.10,276.93 303.30,278.14 303.40,278.67 303.60,279.59 303.70,279.99 303.90,280.68 304.00,280.99 304.25,281.64 304.55,282.26 304.85,282.75 305.15,283.15 305.45,283.47 305.75,283.73 306.05,283.90 306.35,284.03 306.65,284.15 306.95,284.24 307.25,284.31 307.55,284.37 307.85,284.43 308.15,284.47 308.45,284.51 308.75,284.54 309.05,284.56 309.35,284.58 309.65,284.60 309.95,284.62 310.25,284.63 310.55,284.64 310.85,284.65 311.15,284.66 311.45,284.67 311.75,284.67 312.05,284.68 312.35,284.68 312.65,284.68 312.95,284.69 313.25,284.69 313.55,284.69 313.85,284.69 314.15,284.69 314.45,284.69 314.75,284.69 315.05,284.68 315.35,284.68 315.65,284.68 315.95,284.68 316.25,284.68 316.55,284.67 316.85,284.67 317.15,284.67 317.45,284.67 317.75,284.66 318.05,284.66 318.35,284.66 318.65,284.65 318.95,284.65 319.25,284.65 319.55,284.64 319.85,284.64 320.15,284.63 320.45,284.63 320.75,284.63 321.05,284.62 321.35,284.62 321.65,284.61 321.95,284.61 322.25,284.60 322.55,284.60 322.85,284.60 323.15,284.59 323.45,284.59 323.75,284.58 324.05,284.58 324.35,284.57 324.65,284.57 324.95,284.56 325.25,284.56 325.55,284.56 325.85,284.55 326.15,284.55 326.45,284.54 326.75,284.54 327.05,284.53 327.35,284.53 327.65,284.52 327.95,284.52 328.25,284.51 328.55,284.51 328.85,284.50 329.15,284.50 329.45,284.49 329.75,284.49 330.05,284.49 330.35,284.51 330.65,284.53 330.95,284.56 331.25,284.58 331.55,284.60 331.85,284.63 332.15,284.65 332.45,284.67 332.75,284.70 333.05,284.72 333.35,284.74 333.65,284.77 333.95,284.79 334.25,284.81 334.55,284.83 334.85,284.85 335.15,284.88 335.45,284.90 335.75,284.92 336.05,284.94 336.35,284.96 336.65,284.98 336.95,285.00 337.25,285.01 337.55,285.03 337.85,285.04 338.15,285.05 338.45,285.06 338.75,285.07 339.05,285.06 339.35,285.05 339.65,285.04 339.80,285.02 339.95,285.00 340.10,284.97 340.25,284.94 340.40,284.90 340.55,284.85 340.70,284.79 340.85,284.71 341.00,284.62 341.15,284.50 341.30,284.36 341.45,284.19 341.60,283.98 341.75,283.74 341.90,283.48 342.05,283.19 342.20,282.90 342.35,282.64 342.50,282.45 342.65,282.35 342.80,282.36 342.95,282.48 343.10,282.69 343.25,282.94 343.40,283.22 343.55,283.48 343.70,283.71 343.85,283.91 344.00,284.06 344.15,284.18 344.30,284.25 344.45,284.29 344.60,284.30 344.75,284.26 344.90,284.19 345.05,284.08 345.20,283.93 345.35,283.72 345.50,283.45 345.65,283.12 345.80,282.70 345.95,282.19 346.10,281.58 346.25,280.88 346.40,280.08 346.55,279.22 346.70,278.36 346.85,277.60 347.00,277.03 347.15,276.76 347.30,276.84 347.45,277.24 347.60,277.92 347.75,278.75 347.90,279.65 348.05,280.52 348.20,281.32 348.35,282.03 348.50,282.64 348.65,283.16 348.80,283.59 348.95,283.95 349.10,284.25 349.25,284.49 349.40,284.70 349.55,284.87 349.70,285.01 349.85,285.13 350.00,285.24 350.15,285.32 350.30,285.40 350.60,285.51 350.90,285.59 351.20,285.65 351.50,285.68 351.80,285.69 352.10,285.68 352.40,285.64 352.55,285.60 352.70,285.56 352.85,285.51 353.00,285.44 353.15,285.35 353.30,285.25 353.45,285.12 353.60,284.96 353.75,284.76 353.90,284.51 354.05,284.22 354.20,283.86 354.35,283.44 354.50,282.94 354.65,282.37 354.80,281.75 354.95,281.11 355.10,280.52 355.25,280.05 355.40,279.77 355.55,279.73 355.70,279.95 355.85,280.38 356.00,280.95 356.15,281.59 356.30,282.24 356.45,282.84 356.60,283.37 356.75,283.83 356.90,284.22 357.05,284.55 357.20,284.82 357.35,285.04 357.50,285.22 357.65,285.37 357.80,285.49 357.95,285.58 358.10,285.66 358.25,285.72 358.40,285.76 358.55,285.79 358.85,285.82 359.15,285.80 359.45,285.74 359.75,285.62 360.00,285.47 360.10,285.39 360.30,285.19 360.40,285.08 360.60,284.80 360.70,284.63 360.90,284.23 361.00,283.99 361.20,283.42 361.30,283.08 361.50,282.27 361.60,281.80 361.80,280.69 361.90,280.05 362.10,278.63 362.20,277.86 362.40,276.29 362.50,275.55 362.70,274.29 362.80,273.84 363.00,273.47 363.10,273.57 363.30,274.31 363.40,274.89 363.60,276.33 363.70,277.12 363.90,278.69 364.00,279.43 364.20,280.76 364.30,281.35 364.50,282.37 364.60,282.81 364.80,283.54 364.90,283.85 365.10,284.37 365.20,284.59 365.40,284.96 365.50,285.11 365.70,285.37 365.80,285.48 366.00,285.67 366.20,285.81 366.50,285.98 366.80,286.09 367.10,286.15 367.40,286.18 367.70,286.16 367.85,286.14 368.00,286.10 368.15,286.05 368.30,285.97 368.45,285.88 368.60,285.77 368.75,285.63 368.90,285.45 369.05,285.23 369.20,284.95 369.35,284.62 369.50,284.22 369.65,283.74 369.80,283.18 369.95,282.54 370.10,281.84 370.25,281.13 370.40,280.46 370.55,279.93 370.70,279.62 370.85,279.58 371.00,279.82 371.15,280.31 371.30,280.96 371.45,281.68 371.60,282.41 371.75,283.09 371.90,283.70 372.05,284.23 372.20,284.68 372.35,285.05 372.50,285.36 372.65,285.62 372.80,285.84 372.95,286.02 373.10,286.17 373.25,286.30 373.40,286.40 373.55,286.49 373.70,286.57 373.85,286.64 374.15,286.74 374.45,286.83 374.75,286.89 375.05,286.94 375.35,286.98 375.65,287.02 375.95,287.05 376.25,287.07 376.55,287.10 376.85,287.12 377.15,287.13 377.45,287.15 377.75,287.17 378.05,287.18 378.35,287.19 378.65,287.20 378.95,287.21 379.25,287.22 379.55,287.23 379.85,287.24 380.15,287.24 380.45,287.25 380.75,287.25 381.05,287.26 381.35,287.26 381.65,287.26 381.95,287.26 382.25,287.25 382.55,287.25 382.85,287.24 383.15,287.22 383.45,287.20 383.75,287.18 384.05,287.14 384.35,287.09 384.65,287.03 384.95,286.94 385.25,286.82 385.55,286.67 385.80,286.49 385.90,286.41 386.10,286.21 386.20,286.10 386.40,285.82 386.50,285.65 386.70,285.26 386.80,285.03 387.00,284.47 387.10,284.14 387.30,283.37 387.40,282.91 387.60,281.86 387.70,281.27 387.90,279.98 388.00,279.31 388.20,278.00 388.30,277.42 388.50,276.54 388.60,276.30 388.80,276.31 388.90,276.55 389.10,277.44 389.20,278.03 389.40,279.35 389.50,280.03 389.70,281.33 389.80,281.92 390.00,282.98 390.10,283.44 390.30,284.23 390.40,284.56 390.60,285.13 390.70,285.37 390.90,285.77 391.00,285.94 391.20,286.22 391.30,286.35 391.50,286.55 391.60,286.64 391.85,286.83 392.15,286.99 392.45,287.10 392.75,287.17 393.05,287.23 393.35,287.27 393.65,287.29 393.95,287.30 394.25,287.30 394.55,287.29 394.85,287.26 395.15,287.23 395.45,287.17 395.75,287.10 396.05,287.00 396.30,286.88 396.40,286.83 396.60,286.70 396.70,286.62 396.90,286.44 397.00,286.33 397.20,286.07 397.30,285.91 397.50,285.53 397.60,285.30 397.80,284.75 397.90,284.42 398.10,283.62 398.20,283.15 398.40,282.08 398.50,281.48 398.70,280.22 398.80,279.59 399.00,278.51 399.10,278.12 399.30,277.79 399.40,277.87 399.60,278.50 399.70,278.99 399.90,280.18 400.00,280.81 400.20,282.03 400.30,282.58 400.50,283.55 400.60,283.96 400.80,284.66 400.90,284.95 401.10,285.42 401.20,285.62 401.40,285.94 401.50,286.07 401.70,286.29 401.80,286.38 402.00,286.52 402.10,286.58 402.30,286.68 402.50,286.76 402.80,286.83 403.10,286.87 403.40,286.89 403.70,286.87 404.00,286.82 404.15,286.79 404.30,286.74 404.45,286.69 404.60,286.62 404.75,286.53 404.90,286.43 405.05,286.30 405.20,286.14 405.35,285.96 405.50,285.73 405.65,285.45 405.80,285.11 405.95,284.72 406.10,284.25 406.25,283.73 406.40,283.15 406.55,282.57 406.70,282.02 406.85,281.58 407.00,281.32 407.15,281.28 407.30,281.46 407.45,281.85 407.60,282.36 407.75,282.93 407.90,283.51 408.05,284.05 408.20,284.53 408.35,284.94 408.50,285.29 408.65,285.58 408.80,285.82 408.95,286.02 409.10,286.18 409.25,286.31 409.40,286.42 409.55,286.51 409.70,286.59 409.85,286.65 410.00,286.69 410.15,286.73 410.45,286.79 410.75,286.82 411.05,286.84 411.35,286.84 411.65,286.83 411.95,286.80 412.25,286.77 412.55,286.71 412.85,286.64 413.15,286.55 413.45,286.42 413.75,286.25 414.00,286.06 414.10,285.97 414.30,285.76 414.40,285.64 414.60,285.34 414.70,285.17 414.90,284.76 415.00,284.52 415.20,283.94 415.30,283.60 415.50,282.80 415.60,282.33 415.80,281.25 415.90,280.64 416.10,279.31 416.20,278.62 416.40,277.27 416.50,276.67 416.70,275.76 416.80,275.51 417.00,275.51 417.10,275.75 417.30,276.65 417.40,277.25 417.60,278.59 417.70,279.28 417.90,280.59 418.00,281.20 418.20,282.27 418.30,282.74 418.50,283.53 418.60,283.87 418.80,284.44 418.90,284.68 419.10,285.08 419.20,285.25 419.40,285.53 419.50,285.65 419.70,285.86 419.80,285.94 420.05,286.12 420.35,286.28 420.65,286.40 420.95,286.49 421.25,286.56 421.55,286.61 421.85,286.65 422.15,286.68 422.45,286.71 422.75,286.72 423.05,286.74 423.35,286.74 423.65,286.75 423.95,286.76 424.25,286.76 424.55,286.76 424.85,286.76 425.15,286.76 425.45,286.75 425.75,286.75 426.05,286.75 426.35,286.74 426.65,286.74 426.95,286.73 427.25,286.72 427.55,286.72 427.85,286.71 428.15,286.70 428.45,286.70 428.75,286.69 429.05,286.68 429.35,286.67 429.65,286.66 429.95,286.65 430.25,286.66 430.55,286.67 430.85,286.68 431.15,286.69 431.45,286.70 431.75,286.70 432.05,286.71 432.35,286.71 432.65,286.71 432.95,286.71 433.25,286.70 433.55,286.69 433.85,286.67 434.15,286.63 434.45,286.59 434.75,286.52 435.00,286.45 435.10,286.41 435.30,286.33 435.40,286.28 435.60,286.15 435.70,286.08 435.90,285.91 436.00,285.80 436.20,285.55 436.30,285.40 436.50,285.04 436.60,284.83 436.80,284.34 436.90,284.05 437.10,283.42 437.20,283.08 437.40,282.39 437.50,282.06 437.70,281.50 437.80,281.30 438.00,281.14 438.10,281.19 438.30,281.53 438.40,281.79 438.60,282.44 438.70,282.80 438.90,283.51 439.00,283.84 439.20,284.45 439.30,284.72 439.50,285.18 439.60,285.38 439.80,285.72 439.90,285.86 440.10,286.11 440.20,286.21 440.40,286.38 440.50,286.46 440.70,286.59 440.80,286.64 441.00,286.74 441.20,286.82 441.50,286.91 441.80,286.99 442.10,287.05 442.40,287.10 442.70,287.15 443.00,287.18 443.30,287.22 443.60,287.25 443.90,287.27 444.20,287.30 444.50,287.32 444.80,287.34 445.10,287.36 445.40,287.38 445.70,287.40 446.00,287.42 446.30,287.44 446.60,287.45 446.90,287.47 447.20,287.44 447.50,287.38 447.80,287.32 448.10,287.26 448.40,287.20 448.70,287.14 449.00,287.09 449.30,287.03 449.60,286.97 449.90,286.91 450.20,286.85 450.50,286.79 450.80,286.73 451.10,286.67 451.40,286.61 451.70,286.55 452.00,286.49 452.30,286.41 452.60,286.33 452.90,286.25 453.20,286.16 453.50,286.08 453.80,286.00 454.10,285.92 454.40,285.83 454.70,285.75 455.00,285.67 455.30,285.59 455.60,285.51 455.90,285.42 456.20,285.41 456.50,285.44 456.80,285.47 457.10,285.49 457.40,285.52 457.70,285.55 458.00,285.57 458.30,285.60 458.60,285.62 458.90,285.65 459.20,285.68 459.50,285.70 459.80,285.73 460.10,285.76 460.40,285.78 460.70,285.81 461.00,285.84 461.30,285.86 461.60,285.89 461.90,285.91 462.20,285.94 462.50,285.97 462.80,285.99 463.10,286.02 463.40,286.05 463.70,286.07 464.00,286.10 464.30,286.03 464.60,285.96 464.90,285.90 465.20,285.83 465.50,285.76 465.80,285.69 466.10,285.63 466.40,285.56 466.70,285.49 467.00,285.42 467.30,285.36 467.60,285.29 467.90,285.22 468.20,285.24 468.50,285.31 468.80,285.38 469.10,285.45 469.40,285.51 469.70,285.58 470.00,285.65 470.30,285.72 470.60,285.78 470.90,285.85 471.20,285.92 471.50,285.99 471.80,286.05 472.10,286.11 472.40,286.16 472.70,286.20 473.00,286.25 473.30,286.29 473.60,286.34 473.90,286.38 474.20,286.43 474.50,286.47 474.80,286.52 475.10,286.56 475.40,286.61 475.70,286.65 476.00,286.70 476.30,286.54 476.60,286.38 476.90,286.22 477.20,286.06 477.50,285.90 477.80,285.74 478.10,285.58 478.40,285.42 478.70,285.26 479.00,285.10 479.30,284.87 479.60,284.64 479.90,284.42 480.20,284.19 480.50,283.96 480.80,283.73 481.10,283.50 481.40,283.28 481.70,283.20 482.00,283.20 482.30,283.20 482.60,283.20 482.90,283.20 483.20,283.20 483.50,283.20 483.80,283.20 484.10,283.20 484.40,283.20 484.70,283.20 485.00,283.20 485.30,283.33 485.60,283.46 485.90,283.59 486.20,283.72 486.50,283.85 486.80,283.98 487.10,284.11 487.40,284.24 487.70,284.37 488.00,284.50 488.30,284.64 488.60,284.78 488.90,284.92 489.20,285.06 489.50,285.20 489.80,285.34 490.10,285.48 490.40,285.62 490.70,285.76 491.00,285.90 491.30,285.90 491.60,285.91 491.90,285.91 492.20,285.92 492.50,285.92 492.80,285.93 493.10,285.93 493.40,285.94 493.70,285.94 494.00,285.94 494.30,285.95 494.60,285.95 494.90,285.96 495.20,285.96 495.50,285.97 495.80,285.97 496.10,285.98 496.40,285.98 496.70,285.98 497.00,285.99 497.30,285.99 497.60,286.00 497.90,285.99 498.20,285.96 498.50,285.94 498.80,285.92 499.10,285.90 499.40,285.88 499.70,285.86 500.00,285.84 500.30,285.82 500.60,285.80 500.90,285.78 501.20,285.75 501.50,285.73 501.80,285.71 502.10,285.69 502.40,285.67 502.70,285.65 503.00,285.63 503.30,285.61 503.60,285.59 503.90,285.57 504.20,285.54 504.50,285.52 504.80,285.50 505.10,285.48 505.40,285.46 505.70,285.44 506.00,285.42 506.30,285.40 506.60,285.38 506.90,285.36 507.20,285.33 507.50,285.31" fill="none" stroke="#000" stroke-width="2.5" stroke-linejoin="round" stroke-linecap="round"/>
<rect x="10.7" y="3.5" width="497.0" height="318.0" fill="none" stroke="#000" stroke-width="2.3" rx="1.5" ry="1.5"/>
<g stroke="#000" stroke-width="2.3">
<line x1="10.70" y1="321.5" x2="10.70" y2="327.70"/>
<line x1="46.20" y1="321.5" x2="46.20" y2="325.20"/>
<line x1="81.70" y1="321.5" x2="81.70" y2="327.70"/>
<line x1="117.20" y1="321.5" x2="117.20" y2="325.20"/>
<line x1="152.70" y1="321.5" x2="152.70" y2="327.70"/>
<line x1="188.20" y1="321.5" x2="188.20" y2="325.20"/>
<line x1="223.70" y1="321.5" x2="223.70" y2="327.70"/>
<line x1="259.20" y1="321.5" x2="259.20" y2="325.20"/>
<line x1="294.70" y1="321.5" x2="294.70" y2="327.70"/>
<line x1="330.20" y1="321.5" x2="330.20" y2="325.20"/>
<line x1="365.70" y1="321.5" x2="365.70" y2="327.70"/>
<line x1="401.20" y1="321.5" x2="401.20" y2="325.20"/>
<line x1="436.70" y1="321.5" x2="436.70" y2="327.70"/>
<line x1="472.20" y1="321.5" x2="472.20" y2="325.20"/>
<line x1="507.70" y1="321.5" x2="507.70" y2="327.70"/>
</g>
<g>
<path d="M101.40,232.10 L105.45,236.80 L101.40,241.50 L97.35,236.80 Z" fill="#000"/>
<path d="M148.30,75.00 L152.35,79.70 L148.30,84.40 L144.25,79.70 Z" fill="#000"/>
<path d="M192.00,249.90 L196.05,254.60 L192.00,259.30 L187.95,254.60 Z" fill="#000"/>
<path d="M221.20,248.60 L225.25,253.30 L221.20,258.00 L217.15,253.30 Z" fill="#000"/>
<path d="M243.40,245.20 L247.45,249.90 L243.40,254.60 L239.35,249.90 Z" fill="#000"/>
<path d="M274.80,250.00 L278.85,254.70 L274.80,259.40 L270.75,254.70 Z" fill="#000"/>
<path d="M284.00,251.40 L288.05,256.10 L284.00,260.80 L279.95,256.10 Z" fill="#000"/>
<path d="M348.90,262.80 L352.95,267.50 L348.90,272.20 L344.85,267.50 Z" fill="#000"/>
<path d="M371.90,266.90 L375.95,271.60 L371.90,276.30 L367.85,271.60 Z" fill="#000"/>
<path d="M398.50,265.20 L402.55,269.90 L398.50,274.60 L394.45,269.90 Z" fill="#000"/>
<path d="M406.80,269.20 L410.85,273.90 L406.80,278.60 L402.75,273.90 Z" fill="#000"/>
<path d="M438.40,267.60 L442.45,272.30 L438.40,277.00 L434.35,272.30 Z" fill="#000"/>
<circle cx="109.10" cy="224.00" r="4.10" fill="#000"/>
<circle cx="159.10" cy="27.50" r="4.10" fill="#000"/>
<circle cx="177.00" cy="262.00" r="4.10" fill="#000"/>
<circle cx="205.00" cy="241.00" r="4.10" fill="#000"/>
<circle cx="231.50" cy="233.50" r="4.10" fill="#000"/>
<circle cx="259.30" cy="233.10" r="4.10" fill="#000"/>
<circle cx="289.00" cy="267.10" r="4.10" fill="#000"/>
<circle cx="296.80" cy="251.80" r="4.10" fill="#000"/>
<circle cx="302.00" cy="245.50" r="4.10" fill="#000"/>
<circle cx="356.40" cy="271.70" r="4.10" fill="#000"/>
<circle cx="364.90" cy="262.90" r="4.10" fill="#000"/>
<circle cx="388.90" cy="268.50" r="4.10" fill="#000"/>
<circle cx="418.30" cy="266.00" r="4.10" fill="#000"/>
<path fill-rule="evenodd" fill="#000" d="M154.35,12.60 L164.65,12.60 L159.50,22.90 Z M156.91,13.70 L159.95,19.77 L162.98,13.70 Z"/>
<path fill-rule="evenodd" fill="#000" d="M238.35,225.20 L248.65,225.20 L243.50,235.50 Z M240.91,226.30 L243.95,232.37 L246.98,226.30 Z"/>
<path fill-rule="evenodd" fill="#000" d="M254.85,209.20 L265.15,209.20 L260.00,219.50 Z M257.41,210.30 L260.45,216.37 L263.48,210.30 Z"/>
<path fill-rule="evenodd" fill="#000" d="M270.45,230.00 L280.75,230.00 L275.60,240.30 Z M273.01,231.10 L276.05,237.17 L279.08,231.10 Z"/>
<path fill-rule="evenodd" fill="#000" d="M289.95,231.80 L300.25,231.80 L295.10,242.10 Z M292.51,232.90 L295.55,238.97 L298.58,232.90 Z"/>
<path d="M121.30,231.00 L124.90,236.50 L121.30,242.00 L117.70,236.50 Z" fill="#fff" stroke="#000" stroke-width="1.2"/>
<path fill-rule="evenodd" fill="#000" d="M329.80,45.10 L340.20,45.10 L335.00,55.70 Z M332.48,46.25 L335.47,52.35 L338.47,46.25 Z"/>
<path d="M334.40,67.75 L338.55,72.60 L334.40,77.45 L330.25,72.60 Z" fill="#000"/>
<circle cx="337.00" cy="92.20" r="4.20" fill="#000"/>
<path d="M337.00,108.00 L340.50,113.50 L337.00,119.00 L333.50,113.50 Z" fill="#fff" stroke="#000" stroke-width="1.2"/>
</g>
<g class="ax">
<text x="10.70" y="346.3" text-anchor="middle">10</text>
<text x="81.70" y="346.3" text-anchor="middle">20</text>
<text x="152.70" y="346.3" text-anchor="middle">30</text>
<text x="223.70" y="346.3" text-anchor="middle">40</text>
<text x="294.70" y="346.3" text-anchor="middle">50</text>
<text x="365.70" y="346.3" text-anchor="middle">60</text>
<text x="436.70" y="346.3" text-anchor="middle">70</text>
<text x="507.70" y="346.3" text-anchor="middle">80</text>
<text x="261.6" y="369.1" text-anchor="middle" style="font-size:19.5px">2-Theta Angle (deg)</text>
</g>
<g class="lg">
<text x="348.5" y="54.3">Quartz</text>
<text x="350.6" y="75.1">Calcite</text>
<text x="351" y="95.7">Dolomite</text>
<text x="350.6" y="116.9">Other</text>
</g>
</svg>
</body></html>
